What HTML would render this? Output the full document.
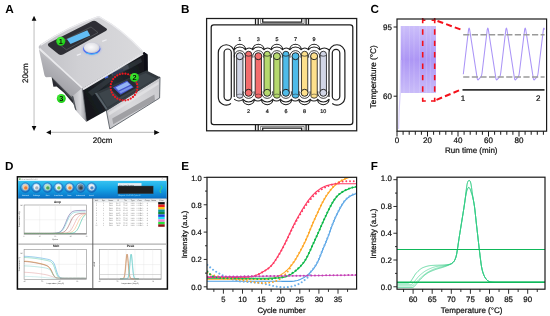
<!DOCTYPE html>
<html lang="en"><head><meta charset="utf-8"><title>Figure</title>
<style>
html,body{margin:0;padding:0;background:#fff;}
body{width:550px;height:316px;overflow:hidden;font-family:"Liberation Sans",Arial,sans-serif;}
svg{display:block;filter:blur(0.3px);}
svg text{font-family:"Liberation Sans",Arial,sans-serif;text-rendering:geometricPrecision;}
svg text.t{stroke:#111;stroke-width:0.22px;}
</style></head><body>
<svg width="550" height="316" viewBox="0 0 550 316">
<rect width="550" height="316" fill="#fff"/>
<g id="panelA">
<text x="5.3" y="13.2" font-size="11.8" font-weight="bold" fill="#000">A</text>
<defs>
<filter id="soft" x="-5%" y="-5%" width="110%" height="110%"><feGaussianBlur stdDeviation="0.45"/></filter>
<filter id="soft2" x="-20%" y="-20%" width="140%" height="140%"><feGaussianBlur stdDeviation="0.9"/></filter>
<linearGradient id="topf" gradientUnits="userSpaceOnUse" x1="40" y1="50" x2="140" y2="50"><stop offset="0" stop-color="#c1c1c6"/><stop offset="0.4" stop-color="#d0d0d4"/><stop offset="1" stop-color="#d9d9dc"/></linearGradient>
<linearGradient id="leftf" gradientUnits="userSpaceOnUse" x1="64" y1="64" x2="50" y2="84"><stop offset="0" stop-color="#c8c8cc"/><stop offset="0.3" stop-color="#b4b4b9"/><stop offset="1" stop-color="#a0a0a6"/></linearGradient>
<linearGradient id="legf" gradientUnits="userSpaceOnUse" x1="72" y1="100" x2="86" y2="100"><stop offset="0" stop-color="#b4b4b9"/><stop offset="0.6" stop-color="#d8d8dc"/><stop offset="1" stop-color="#9a9aa0"/></linearGradient>
<linearGradient id="drawf" gradientUnits="userSpaceOnUse" x1="108" y1="120" x2="158" y2="88"><stop offset="0" stop-color="#c6c6ca"/><stop offset="0.45" stop-color="#dadadd"/><stop offset="1" stop-color="#cbcbcf"/></linearGradient>
<linearGradient id="cav" gradientUnits="userSpaceOnUse" x1="86" y1="100" x2="146" y2="70"><stop offset="0" stop-color="#15181c"/><stop offset="0.5" stop-color="#232a30"/><stop offset="1" stop-color="#14161a"/></linearGradient>
<radialGradient id="knob" cx="0.45" cy="0.45" r="0.62"><stop offset="0" stop-color="#fafafc"/><stop offset="0.65" stop-color="#e4e4e9"/><stop offset="1" stop-color="#babac4"/></radialGradient>
<radialGradient id="grn" cx="0.4" cy="0.35" r="0.7"><stop offset="0" stop-color="#4cf03a"/><stop offset="1" stop-color="#18c814"/></radialGradient>
</defs>
<path d="M34.05,19 V128 M49,132.4 H156" stroke="#c4c4c4" stroke-width="1.1" fill="none"/>
<path d="M34.05,15.8 L36.4,20.7 H31.7 Z M34.05,130.9 L36.4,126.1 H31.7 Z M46.1,132.4 L51,130.1 V134.7 Z M159.6,132.4 L154.2,129.9 V134.9 Z" fill="#0a0a0a"/>
<text class="t" x="102.6" y="143" font-size="8" text-anchor="middle" fill="#111">20cm</text>
<text class="t" transform="translate(27.9,73.2) rotate(-90)" font-size="8" text-anchor="middle" fill="#111">20cm</text>
<g filter="url(#soft)">
<path d="M82,88 L144,52 L147.5,54.6 L147.8,77 L153,79.6 L106.5,110.5 L86.4,121.8 Z" fill="url(#cav)"/>
<path d="M144,52 L147.5,54.6 L147.8,77.5 L144.2,75.2 Z" fill="#101114"/>
<path d="M111,71.6 L128,64.4 L129,68.6 L112,76 Z" fill="#4e565e"/>
<path d="M112.5,72.8 L123,68.8 L123.6,71 L113.2,75.2 Z" fill="#26345e"/>
<path d="M104.6,76.4 L108,75.2 L108.4,77.6 L105,78.8 Z" fill="#4060d8"/>
<path d="M88,92 L125,66 L141,58 L142,62 L120,74 L92,96 Z" fill="#3a4248" opacity="0.55"/>
<path d="M94.6,93 L146.5,70.6 L160,77.3 L106.3,110.6 Z" fill="#30383e"/>
<path d="M99,93.4 L145.5,73 L156,78.2 L107.4,107.2 Z" fill="#3c454c"/>
<path d="M110,88.6 L131,78 L138,87 L119,97.4 Z" fill="#262c32"/>
<path d="M94.8,93 L106.6,110.6 L108,109.6 L97,93 Z" fill="#59626a"/>
<path d="M113,87.6 L127,80.4 L133.6,87.2 L120.6,94.8 Z" fill="#4656cc"/>
<path d="M115.6,87.4 L127.2,81.8 L130.2,84.8 L118.4,90.6 Z" fill="#94b4f4"/>
<path d="M119.2,91.4 L131.2,85.8 L132.6,87.2 L120.8,93.2 Z" fill="#7a94e8"/>
<path d="M106.3,110.5 L160,77.2 L159.6,98 L109.8,129 Z" fill="url(#drawf)"/>
<path d="M108.4,112.6 L158.6,81.4 L158.6,84.4 L108.8,115.8 Z" fill="#e2e2e5" opacity="0.8"/>
<path d="M112.2,118.6 L154.4,94.6 L155,100.6 L113.2,124.2 Z" fill="#a0a0a4"/>
<path d="M106.3,110.5 L160,77.2 L159.6,98 L109.8,129 Z" fill="none" stroke="#5a6066" stroke-width="0.9"/>
<path d="M106.0,110.4 L159.8,77" stroke="#3a4046" stroke-width="1.3" fill="none"/>
<path d="M40.4,44.6 Q67.9,26 95.8,17 Q98.6,15.2 101.5,17.4 Q121.85,28.6 142,50 Q144,51.9 141.8,53 L84,87.4 Q82,88.6 80.4,87.2 L39.6,49.6 Q37.4,46.8 40.4,44.6 Z" fill="url(#topf)"/>
<path d="M40.6,45.2 Q67.9,26.7 95.8,17.6 Q98.6,15.9 101.2,18 Q121.6,29.2 141.6,50.4" fill="none" stroke="#ededf0" stroke-width="1.3"/>
<path d="M142.4,52.6 L84.2,87.2 Q82,88.4 81,87.6 L81.6,90 Q82.6,90.6 84.6,89.6 L143.4,54.6 Z" fill="#e3e3e7"/>
<path d="M38.9,49.6 L81.6,88.3 L86.2,121.6 L75.4,109.8 Q73.6,104 72.6,98 L51.6,77 L46.2,77.3 Q44.8,76.8 44.4,75 Z" fill="url(#leftf)"/>
<path d="M72,96.5 L81.6,88.6 L86.2,121.6 L75.4,109.8 Q73.6,104 72,96.5 Z" fill="url(#legf)"/>
<path d="M39.6,48.6 L82,87.8" stroke="#ebebee" stroke-width="1.3" fill="none"/>
<path d="M82.4,88.2 L86.3,121.4" stroke="#70747a" stroke-width="0.8" fill="none"/>
<path d="M51.6,77 L72.6,98 L75.2,109.8 L73.6,104 L71.3,101.4 L64,92.8 L56.6,86.6 L53.4,86.8 Z" fill="#2a2c31"/>
<path d="M51.6,77 L72.6,98 L73.2,100.6 L63,90 L53,79.6 Z" fill="#5a5d63" opacity="0.75"/>
<path d="M71.5,95.4 L73.4,96.6 L76.6,110.6 L75.2,109.4 Z" fill="#50545a"/>
<path d="M49,43 L92.5,21 Q94.6,20.1 96.4,21.4 L106.5,28.6 Q107.8,29.7 106.2,30.7 L63,54.5 Q60.6,55.6 58.6,54.2 L48.6,46.2 Q47,44.3 49,43 Z" fill="#2e2f34"/>
<path d="M58.2,43.4 L91,27 L98,32.6 L66.4,49.8 Z" fill="none" stroke="#6c6e74" stroke-width="0.5"/>
<path d="M66.9,39 L87.3,30.3 L90.2,35.4 L70.5,44.1 Z" fill="#62bdf4"/>
<ellipse cx="91.8" cy="49.3" rx="9.2" ry="5.6" fill="#7a8af4" opacity="0.45" filter="url(#soft2)"/>
<ellipse cx="91.8" cy="49.1" rx="8.7" ry="5.3" fill="#4a6cf2"/>
<path d="M86,53.2 Q91.8,55.6 97.6,53.2" stroke="#48c4f8" stroke-width="0.9" fill="none"/>
<ellipse cx="91.8" cy="47.7" rx="8.0" ry="5.2" fill="url(#knob)"/>
<path d="M76.8,55.4 L81,53.8 M102.2,41.4 L106.6,39.8" stroke="#efeff3" stroke-width="1.2"/>
</g>
<g fill="#ee1620"><circle cx="137.4" cy="87" r="1.1"/><circle cx="137.11" cy="89.79" r="1.1"/><circle cx="136.24" cy="92.45" r="1.1"/><circle cx="134.84" cy="94.88" r="1.1"/><circle cx="132.97" cy="96.96" r="1.1"/><circle cx="130.7" cy="98.6" r="1.1"/><circle cx="128.14" cy="99.74" r="1.1"/><circle cx="125.4" cy="100.33" r="1.1"/><circle cx="122.6" cy="100.33" r="1.1"/><circle cx="119.86" cy="99.74" r="1.1"/><circle cx="117.3" cy="98.6" r="1.1"/><circle cx="115.03" cy="96.96" r="1.1"/><circle cx="113.16" cy="94.88" r="1.1"/><circle cx="111.76" cy="92.45" r="1.1"/><circle cx="110.89" cy="89.79" r="1.1"/><circle cx="110.6" cy="87" r="1.1"/><circle cx="110.89" cy="84.21" r="1.1"/><circle cx="111.76" cy="81.55" r="1.1"/><circle cx="113.16" cy="79.12" r="1.1"/><circle cx="115.03" cy="77.04" r="1.1"/><circle cx="117.3" cy="75.4" r="1.1"/><circle cx="119.86" cy="74.26" r="1.1"/><circle cx="122.6" cy="73.67" r="1.1"/><circle cx="125.4" cy="73.67" r="1.1"/><circle cx="128.14" cy="74.26" r="1.1"/><circle cx="130.7" cy="75.4" r="1.1"/><circle cx="132.97" cy="77.04" r="1.1"/><circle cx="134.84" cy="79.12" r="1.1"/><circle cx="136.24" cy="81.55" r="1.1"/><circle cx="137.11" cy="84.21" r="1.1"/></g>
<circle cx="60.8" cy="41.2" r="4.5" fill="url(#grn)"/>
<text x="60.8" y="43.800000000000004" font-size="7.3" font-weight="bold" text-anchor="middle" fill="#061806">1</text>
<circle cx="134.5" cy="77.4" r="4.5" fill="url(#grn)"/>
<text x="134.5" y="80.0" font-size="7.3" font-weight="bold" text-anchor="middle" fill="#061806">2</text>
<circle cx="61.3" cy="98.5" r="4.5" fill="url(#grn)"/>
<text x="61.3" y="101.1" font-size="7.3" font-weight="bold" text-anchor="middle" fill="#061806">3</text>
</g>
<g id="panelB">
<text x="180.9" y="13.2" font-size="11.7" font-weight="bold" fill="#000">B</text>
<g fill="none" stroke="#1c1c1c" stroke-width="1.25">
<rect x="206.6" y="18.5" width="150.1" height="112.3"/>
<rect x="211.2" y="24.8" width="141.6" height="99.7" rx="2.6"/>
<path d="M255.5,18.5 V24.8 M258.2,18.5 V24.8 M306.1,18.5 V24.8 M308.5,18.5 V24.8"/>
<path d="M262.7,18.5 V22.2 H301.7 V18.5"/>
<path d="M260.6,18.5 V23.5 H304.1 V18.5" stroke="#555" stroke-width="0.7"/>
<path d="M255.5,130.8 V124.5 M258.2,130.8 V124.5 M306.1,130.8 V124.5 M308.5,130.8 V124.5"/>
<path d="M262.7,130.8 V128 H301.7 V130.8"/>
<path d="M260.6,130.8 V126.4 H304.1 V130.8" stroke="#555" stroke-width="0.7"/>
</g>
<g fill="none" stroke="#1c1c1c" stroke-width="1.2">
<path d="M234.2,97 V52.7 A7.95,7.95 0 0 0 218.3,52.7 V97 A7.95,7.95 0 0 0 231,103.5"/>
<rect x="224.1" y="49" width="7.2" height="51.3" rx="3.6"/>
<path d="M329,97 V52.7 A7.95,7.95 0 0 1 344.9,52.7 V97 A7.95,7.95 0 0 1 332.2,103.5"/>
<rect x="332.3" y="49.3" width="7.5" height="50.7" rx="3.75"/>
</g>
<path d="M233.9,49.6 A5.93,5.93 0 0 1 245.7,49.6 M234.2,49.6 A7.3,7.3 0 0 1 245.4,49.6 M245.3,49.7 Q249.08,46.3 252.85,49.7 M252.45,49.6 A5.93,5.93 0 0 1 264.25,49.6 M252.75,49.6 A7.3,7.3 0 0 1 263.95,49.6 M263.85,49.7 Q267.62,46.3 271.4,49.7 M271,49.6 A5.93,5.93 0 0 1 282.8,49.6 M271.3,49.6 A7.3,7.3 0 0 1 282.5,49.6 M282.4,49.7 Q286.2,46.3 290,49.7 M289.6,49.6 A5.93,5.93 0 0 1 301.4,49.6 M289.9,49.6 A7.3,7.3 0 0 1 301.1,49.6 M301,49.7 Q304.8,46.3 308.6,49.7 M308.2,49.6 A5.93,5.93 0 0 1 320,49.6 M308.5,49.6 A7.3,7.3 0 0 1 319.7,49.6 M319.6,49.7 Q324.3,46.3 329,49.7 M242.7,99.4 A5.93,5.93 0 0 0 254.5,99.4 M243,99.4 A7.3,7.3 0 0 0 254.2,99.4 M243.1,99.3 Q238.8,102.7 234.5,99.3 M261.3,99.4 A5.93,5.93 0 0 0 273.1,99.4 M261.6,99.4 A7.3,7.3 0 0 0 272.8,99.4 M261.7,99.3 Q257.9,102.7 254.1,99.3 M280,99.4 A5.93,5.93 0 0 0 291.8,99.4 M280.3,99.4 A7.3,7.3 0 0 0 291.5,99.4 M280.4,99.3 Q276.55,102.7 272.7,99.3 M298.7,99.4 A5.93,5.93 0 0 0 310.5,99.4 M299,99.4 A7.3,7.3 0 0 0 310.2,99.4 M299.1,99.3 Q295.25,102.7 291.4,99.3 M317.4,99.4 A5.93,5.93 0 0 0 329.2,99.4 M317.7,99.4 A7.3,7.3 0 0 0 328.9,99.4 M317.8,99.3 Q313.95,102.7 310.1,99.3 " fill="none" stroke="#1c1c1c" stroke-width="1.05" stroke-linecap="round"/>
<path d="M234.4,57.7 A5.6,5.6 0 1 1 245.2,57.7" fill="none" stroke="#1c1c1c" stroke-width="0.85"/>
<path d="M236.65,56.2 V95.8 A3.15,2.3 0 0 0 242.95,95.8 V56.2 Z" fill="#d2d6e6" stroke="#1c1c1c" stroke-width="0.85"/>
<ellipse cx="239.8" cy="96" rx="3.15" ry="1.9" fill="#d2d6e6" stroke="#1c1c1c" stroke-width="0.5" opacity="0.9"/>
<circle cx="239.8" cy="56.2" r="3.5" fill="#d2d6e6" stroke="#1c1c1c" stroke-width="0.95"/>
<path d="M243.2,91.3 A5.6,5.6 0 1 0 254,91.3" fill="none" stroke="#1c1c1c" stroke-width="0.85"/>
<path d="M245.45,92.8 V54.4 A3.15,3.15 0 0 1 251.75,54.4 V92.8 Z" fill="#f26d6d" stroke="#1c1c1c" stroke-width="0.85"/>
<path d="M245.45,54.6 A3.15,1.6 0 0 0 251.75,54.6" fill="none" stroke="#1c1c1c" stroke-width="0.7"/>
<circle cx="248.6" cy="92.8" r="3.5" fill="#f26d6d" stroke="#1c1c1c" stroke-width="0.95"/>
<path d="M252.95,57.7 A5.6,5.6 0 1 1 263.75,57.7" fill="none" stroke="#1c1c1c" stroke-width="0.85"/>
<path d="M255.2,56.2 V95.8 A3.15,2.3 0 0 0 261.5,95.8 V56.2 Z" fill="#f26d6d" stroke="#1c1c1c" stroke-width="0.85"/>
<ellipse cx="258.35" cy="96" rx="3.15" ry="1.9" fill="#f26d6d" stroke="#1c1c1c" stroke-width="0.5" opacity="0.9"/>
<circle cx="258.35" cy="56.2" r="3.5" fill="#f26d6d" stroke="#1c1c1c" stroke-width="0.95"/>
<path d="M261.8,91.3 A5.6,5.6 0 1 0 272.6,91.3" fill="none" stroke="#1c1c1c" stroke-width="0.85"/>
<path d="M264.05,92.8 V54.4 A3.15,3.15 0 0 1 270.35,54.4 V92.8 Z" fill="#b6d96e" stroke="#1c1c1c" stroke-width="0.85"/>
<path d="M264.05,54.6 A3.15,1.6 0 0 0 270.35,54.6" fill="none" stroke="#1c1c1c" stroke-width="0.7"/>
<circle cx="267.2" cy="92.8" r="3.5" fill="#b6d96e" stroke="#1c1c1c" stroke-width="0.95"/>
<path d="M271.5,57.7 A5.6,5.6 0 1 1 282.3,57.7" fill="none" stroke="#1c1c1c" stroke-width="0.85"/>
<path d="M273.75,56.2 V95.8 A3.15,2.3 0 0 0 280.05,95.8 V56.2 Z" fill="#b6d96e" stroke="#1c1c1c" stroke-width="0.85"/>
<ellipse cx="276.9" cy="96" rx="3.15" ry="1.9" fill="#b6d96e" stroke="#1c1c1c" stroke-width="0.5" opacity="0.9"/>
<circle cx="276.9" cy="56.2" r="3.5" fill="#b6d96e" stroke="#1c1c1c" stroke-width="0.95"/>
<path d="M280.5,91.3 A5.6,5.6 0 1 0 291.3,91.3" fill="none" stroke="#1c1c1c" stroke-width="0.85"/>
<path d="M282.75,92.8 V54.4 A3.15,3.15 0 0 1 289.05,54.4 V92.8 Z" fill="#4ebbe9" stroke="#1c1c1c" stroke-width="0.85"/>
<path d="M282.75,54.6 A3.15,1.6 0 0 0 289.05,54.6" fill="none" stroke="#1c1c1c" stroke-width="0.7"/>
<circle cx="285.9" cy="92.8" r="3.5" fill="#4ebbe9" stroke="#1c1c1c" stroke-width="0.95"/>
<path d="M290.1,57.7 A5.6,5.6 0 1 1 300.9,57.7" fill="none" stroke="#1c1c1c" stroke-width="0.85"/>
<path d="M292.35,56.2 V95.8 A3.15,2.3 0 0 0 298.65,95.8 V56.2 Z" fill="#4ebbe9" stroke="#1c1c1c" stroke-width="0.85"/>
<ellipse cx="295.5" cy="96" rx="3.15" ry="1.9" fill="#4ebbe9" stroke="#1c1c1c" stroke-width="0.5" opacity="0.9"/>
<circle cx="295.5" cy="56.2" r="3.5" fill="#4ebbe9" stroke="#1c1c1c" stroke-width="0.95"/>
<path d="M299.2,91.3 A5.6,5.6 0 1 0 310,91.3" fill="none" stroke="#1c1c1c" stroke-width="0.85"/>
<path d="M301.45,92.8 V54.4 A3.15,3.15 0 0 1 307.75,54.4 V92.8 Z" fill="#fde08c" stroke="#1c1c1c" stroke-width="0.85"/>
<path d="M301.45,54.6 A3.15,1.6 0 0 0 307.75,54.6" fill="none" stroke="#1c1c1c" stroke-width="0.7"/>
<circle cx="304.6" cy="92.8" r="3.5" fill="#fde08c" stroke="#1c1c1c" stroke-width="0.95"/>
<path d="M308.7,57.7 A5.6,5.6 0 1 1 319.5,57.7" fill="none" stroke="#1c1c1c" stroke-width="0.85"/>
<path d="M310.95,56.2 V95.8 A3.15,2.3 0 0 0 317.25,95.8 V56.2 Z" fill="#fde08c" stroke="#1c1c1c" stroke-width="0.85"/>
<ellipse cx="314.1" cy="96" rx="3.15" ry="1.9" fill="#fde08c" stroke="#1c1c1c" stroke-width="0.5" opacity="0.9"/>
<circle cx="314.1" cy="56.2" r="3.5" fill="#fde08c" stroke="#1c1c1c" stroke-width="0.95"/>
<path d="M317.9,91.3 A5.6,5.6 0 1 0 328.7,91.3" fill="none" stroke="#1c1c1c" stroke-width="0.85"/>
<path d="M320.15,92.8 V54.4 A3.15,3.15 0 0 1 326.45,54.4 V92.8 Z" fill="#d2d6e6" stroke="#1c1c1c" stroke-width="0.85"/>
<path d="M320.15,54.6 A3.15,1.6 0 0 0 326.45,54.6" fill="none" stroke="#1c1c1c" stroke-width="0.7"/>
<circle cx="323.3" cy="92.8" r="3.5" fill="#d2d6e6" stroke="#1c1c1c" stroke-width="0.95"/>
<text x="239.8" y="41" class="t" font-size="5.4" text-anchor="middle" fill="#222">1</text>
<text x="258.35" y="41" class="t" font-size="5.4" text-anchor="middle" fill="#222">3</text>
<text x="276.9" y="41" class="t" font-size="5.4" text-anchor="middle" fill="#222">5</text>
<text x="295.5" y="41" class="t" font-size="5.4" text-anchor="middle" fill="#222">7</text>
<text x="314.1" y="41" class="t" font-size="5.4" text-anchor="middle" fill="#222">9</text>
<text x="248.6" y="113" class="t" font-size="5.4" text-anchor="middle" fill="#222">2</text>
<text x="267.2" y="113" class="t" font-size="5.4" text-anchor="middle" fill="#222">4</text>
<text x="285.9" y="113" class="t" font-size="5.4" text-anchor="middle" fill="#222">6</text>
<text x="304.6" y="113" class="t" font-size="5.4" text-anchor="middle" fill="#222">8</text>
<text x="323.3" y="113" class="t" font-size="5.4" text-anchor="middle" fill="#222">10</text>
</g>
<g id="panelC">
<defs><linearGradient id="purp" x1="0" y1="0" x2="0" y2="1"><stop offset="0" stop-color="#cbbefa"/><stop offset="0.5" stop-color="#ad96f5"/><stop offset="1" stop-color="#c9bcf9"/></linearGradient></defs>
<text x="370.5" y="13.2" font-size="11.7" font-weight="bold" fill="#000">C</text>
<rect x="400.7" y="26" width="35.3" height="67" fill="url(#purp)"/>
<path d="M404,26 V93 M409.5,26 V93 M414,26 V93 M419.6,26 V93 M426.5,26 V93 M430.4,26 V93" stroke="#fff" stroke-width="1.2" opacity="0.13" fill="none"/>
<path d="M398.6,129 L399.2,110 L400.2,93 L400.7,60" fill="none" stroke="#d9d0fb" stroke-width="1.2"/>
<path d="M463.3,74.3 L468.55,29.6 Q469.1,26.4 469.65,29.6 L477.2,78.4 Q477.7,80.9 478.6,79.3 L481.1,76.6 Q481.7,75.8 482.1,72.5 L487.25,29.6 Q487.8,26.4 488.35,29.6 L495.9,78.4 Q496.4,80.9 497.3,79.3 L499.8,76.6 Q500.4,75.8 500.8,72.5 L505.85,29.6 Q506.4,26.4 506.95,29.6 L514.5,78.4 Q515,80.9 515.9,79.3 L518.4,76.6 Q519,75.8 519.4,72.5 L524.65,29.6 Q525.2,26.4 525.75,29.6 L533.3,78.4 Q533.8,80.9 534.7,79.3 L537.2,76.6 Q537.8,75.8 538.2,72.5 L543.35,29.6 Q543.9,26.4 544.45,29.6" fill="none" stroke="#ab95f7" stroke-width="1.05" stroke-linejoin="round"/>
<path d="M463.2,34.7 H544.6" stroke="#9a9a9a" stroke-width="1.5" stroke-dasharray="6.2 2.4" fill="none"/>
<path d="M463.2,77 H544.6" stroke="#9a9a9a" stroke-width="1.5" stroke-dasharray="6.2 2.4" fill="none"/>
<path d="M462.5,89.9 H544.5" stroke="#333" stroke-width="1.8" fill="none"/>
<text x="463" y="100.8" class="t" font-size="8" text-anchor="middle" fill="#111">1</text>
<text x="538.3" y="100.8" class="t" font-size="8" text-anchor="middle" fill="#111">2</text>
<g stroke="#f4101a" fill="none">
<path d="M422.7,17.9 V101.5" stroke-width="1.6" stroke-dasharray="5.4 6"/>
<path d="M434.7,17.9 V101.5" stroke-width="1.6" stroke-dasharray="5.4 6"/>
<path d="M422,101 H425.8 M431,101 H435.4" stroke-width="1.6"/>
<path d="M422,20.2 H425.4 M431.6,20.2 H435.4" stroke-width="1.4"/>
<path d="M437.5,21 L461,29.6" stroke-width="2" stroke-dasharray="6 3.2"/>
<path d="M436.5,99.8 L460.3,89.9" stroke-width="2" stroke-dasharray="6 3.2"/>
</g>
<rect x="397" y="19" width="149.6" height="112.2" fill="none" stroke="#1a1a1a" stroke-width="1.2"/>
<path d="M397,131.2 V136.5 M403.1,131.2 V134.8 M409.2,131.2 V134.8 M415.3,131.2 V134.8 M421.4,131.2 V134.8 M427.5,131.2 V136.5 M433.6,131.2 V134.8 M439.7,131.2 V134.8 M445.8,131.2 V134.8 M451.9,131.2 V134.8 M458,131.2 V136.5 M464.1,131.2 V134.8 M470.2,131.2 V134.8 M476.3,131.2 V134.8 M482.4,131.2 V134.8 M488.5,131.2 V136.5 M494.6,131.2 V134.8 M500.7,131.2 V134.8 M506.8,131.2 V134.8 M512.9,131.2 V134.8 M519,131.2 V136.5 M525.1,131.2 V134.8 M531.2,131.2 V134.8 M537.3,131.2 V134.8 M543.4,131.2 V134.8 M393.6,27 H397 M393.6,96.2 H397" stroke="#1a1a1a" stroke-width="1" fill="none"/>
<text x="397" y="143.4" class="t" font-size="8" text-anchor="middle" fill="#111">0</text>
<text x="427.5" y="143.4" class="t" font-size="8" text-anchor="middle" fill="#111">20</text>
<text x="458" y="143.4" class="t" font-size="8" text-anchor="middle" fill="#111">40</text>
<text x="488.5" y="143.4" class="t" font-size="8" text-anchor="middle" fill="#111">60</text>
<text x="519" y="143.4" class="t" font-size="8" text-anchor="middle" fill="#111">80</text>
<text x="391.9" y="29.9" class="t" font-size="8" text-anchor="end" fill="#111">95</text>
<text x="391.9" y="99.1" class="t" font-size="8" text-anchor="end" fill="#111">60</text>
<text x="471.3" y="152.6" class="t" font-size="8" text-anchor="middle" fill="#111">Run time (min)</text>
<text transform="translate(376.1,76.8) rotate(-90)" class="t" font-size="8.2" text-anchor="middle" fill="#111">Temperature (°C)</text>
</g>
<g id="panelD">
<text x="5.0" y="170.4" font-size="11.7" font-weight="bold" fill="#000">D</text>
<defs><linearGradient id="tb" x1="0" y1="0" x2="0" y2="1"><stop offset="0" stop-color="#36c2f0"/><stop offset="0.45" stop-color="#15a6e6"/><stop offset="1" stop-color="#0a70c6"/></linearGradient>
<radialGradient id="ic" cx="0.42" cy="0.3" r="0.75"><stop offset="0" stop-color="#d8f0fc"/><stop offset="0.5" stop-color="#5cb4ea"/><stop offset="1" stop-color="#1560b4"/></radialGradient></defs>
<rect x="17.4" y="176.8" width="150" height="112.2" fill="#fff" stroke="#0c0c0c" stroke-width="1.5"/>
<rect x="18.1" y="180.8" width="148.6" height="17.4" fill="url(#tb)"/>
<rect x="19.2" y="178.3" width="1.3" height="1.6" fill="#4caf50"/>
<text x="21.5" y="180" font-size="1.9" fill="#888">RealTimePCR v1.0</text>
<text x="160" y="180" font-size="2" fill="#777">– □ ×</text>
<circle cx="25.4" cy="187.6" r="4.7" fill="url(#ic)" stroke="#0c58a8" stroke-width="0.6"/>
<ellipse cx="25.5" cy="187.3" rx="2.9" ry="3.1" fill="#f6c8a0" opacity="0.9"/>
<circle cx="25.8" cy="187.9" r="1.7" fill="#e8732c" opacity="0.9"/>
<text x="25.4" y="195.9" font-size="1.9" text-anchor="middle" fill="#e8f6ff">Protocol</text>
<circle cx="36.43" cy="187.6" r="4.7" fill="url(#ic)" stroke="#0c58a8" stroke-width="0.6"/>
<ellipse cx="36.53" cy="187.3" rx="2.9" ry="3.1" fill="#f2f4f6" opacity="0.9"/>
<circle cx="36.83" cy="187.9" r="1.7" fill="#9aa7b5" opacity="0.9"/>
<text x="36.43" y="195.9" font-size="1.9" text-anchor="middle" fill="#e8f6ff">Settings</text>
<circle cx="47.46" cy="187.6" r="4.7" fill="url(#ic)" stroke="#0c58a8" stroke-width="0.6"/>
<ellipse cx="47.56" cy="187.3" rx="2.9" ry="3.1" fill="#bfe6c0" opacity="0.9"/>
<circle cx="47.86" cy="187.9" r="1.7" fill="#3f9c4a" opacity="0.9"/>
<text x="47.46" y="195.9" font-size="1.9" text-anchor="middle" fill="#e8f6ff">Run</text>
<circle cx="58.49" cy="187.6" r="4.7" fill="url(#ic)" stroke="#0c58a8" stroke-width="0.6"/>
<ellipse cx="58.59" cy="187.3" rx="2.9" ry="3.1" fill="#f4f8f0" opacity="0.9"/>
<circle cx="58.89" cy="187.9" r="1.7" fill="#6fb34a" opacity="0.9"/>
<text x="58.49" y="195.9" font-size="1.9" text-anchor="middle" fill="#e8f6ff">Load Data</text>
<circle cx="69.52" cy="187.6" r="4.7" fill="url(#ic)" stroke="#0c58a8" stroke-width="0.6"/>
<ellipse cx="69.62" cy="187.3" rx="2.9" ry="3.1" fill="#f8e0c0" opacity="0.9"/>
<circle cx="69.92" cy="187.9" r="1.7" fill="#e27a2c" opacity="0.9"/>
<text x="69.52" y="195.9" font-size="1.9" text-anchor="middle" fill="#e8f6ff">Save</text>
<circle cx="80.55" cy="187.6" r="4.7" fill="url(#ic)" stroke="#0c58a8" stroke-width="0.6"/>
<ellipse cx="80.65" cy="187.3" rx="2.9" ry="3.1" fill="#6a7480" opacity="0.9"/>
<circle cx="80.95" cy="187.9" r="1.7" fill="#2d3a48" opacity="0.9"/>
<text x="80.55" y="195.9" font-size="1.9" text-anchor="middle" fill="#e8f6ff">Instrument</text>
<circle cx="91.58" cy="187.6" r="4.7" fill="url(#ic)" stroke="#0c58a8" stroke-width="0.6"/>
<ellipse cx="91.68" cy="187.3" rx="2.9" ry="3.1" fill="#f6f0f0" opacity="0.9"/>
<circle cx="91.98" cy="187.9" r="1.7" fill="#3a7fc4" opacity="0.9"/>
<text x="91.58" y="195.9" font-size="1.9" text-anchor="middle" fill="#e8f6ff">Excel</text>
<rect x="117.9" y="183.1" width="23.6" height="3" fill="#e9eef2"/>
<text x="119" y="185.5" font-size="1.9" fill="#333">Run Time Monitor</text>
<rect x="117.9" y="186" width="35.3" height="7.8" fill="#1f1f1f" stroke="#3a5a70" stroke-width="0.4"/>
<text x="118.5" y="196.3" font-size="1.8" fill="#9fe3ff">Elapsed: 00:47:12   Cycle 40</text>
<path d="M161,185.6 q2.4,1.6 0,3.6 q-2.4,1.8 0,3.8" fill="none" stroke="#3ed17a" stroke-width="1"/>
<path d="M18.1,244.1 H166.7" stroke="#b0b0b0" stroke-width="1.4" fill="none"/>
<path d="M92.8,198.2 V288.3" stroke="#555" stroke-width="0.9" fill="none"/>
<path d="M18.1,198.4 H166.7" stroke="#0a5596" stroke-width="0.5"/>
<text x="57.5" y="202.8" font-size="3.2" font-weight="bold" text-anchor="middle" fill="#111">Amp</text>
<rect x="24.1" y="205" width="62.3" height="29.5" fill="#fff" stroke="#8c8c8c" stroke-width="0.6"/>
<path d="M39.68,205 V234.5 M55.25,205 V234.5 M70.83,205 V234.5 M24.1,219.75 H86.4 " stroke="#e2e2e2" stroke-width="0.4" fill="none"/>
<path d="M24.1,233.5 H86.4" stroke="#8d8d8d" stroke-width="0.9"/>
<path d="M24.1,233.4 L24.9,233.4 L25.7,233.4 L26.5,233.4 L27.3,233.4 L28.1,233.4 L28.9,233.4 L29.7,233.4 L30.5,233.4 L31.3,233.4 L32.1,233.4 L32.9,233.4 L33.7,233.4 L34.5,233.4 L35.3,233.4 L36.1,233.4 L36.9,233.4 L37.7,233.4 L38.5,233.4 L39.3,233.4 L40.1,233.4 L40.9,233.4 L41.7,233.4 L42.5,233.4 L43.3,233.4 L44.1,233.4 L44.9,233.4 L45.7,233.4 L46.5,233.4 L47.3,233.39 L48.1,233.39 L48.9,233.39 L49.7,233.38 L50.5,233.37 L51.3,233.36 L52.1,233.35 L52.9,233.32 L53.7,233.29 L54.5,233.25 L55.3,233.18 L56.1,233.09 L56.9,232.97 L57.7,232.79 L58.5,232.55 L59.3,232.22 L60.1,231.76 L60.9,231.14 L61.7,230.33 L62.5,229.28 L63.3,227.97 L64.1,226.4 L64.9,224.6 L65.7,222.65 L66.5,220.65 L67.3,218.73 L68.1,216.99 L68.9,215.48 L69.7,214.24 L70.5,213.25 L71.3,212.49 L72.1,211.91 L72.9,211.49 L73.7,211.18 L74.5,210.96 L75.3,210.8 L76.1,210.68 L76.9,210.6 L77.7,210.54 L78.5,210.5 L79.3,210.47 L80.1,210.45 L80.9,210.44 L81.7,210.42 L82.5,210.42 L83.3,210.41 L84.1,210.41 L84.9,210.41 L85.7,210.4" fill="none" stroke="#4a3f8f" stroke-width="0.5"/>
<path d="M24.1,233.4 L24.9,233.4 L25.7,233.4 L26.5,233.4 L27.3,233.4 L28.1,233.4 L28.9,233.4 L29.7,233.4 L30.5,233.4 L31.3,233.4 L32.1,233.4 L32.9,233.4 L33.7,233.4 L34.5,233.4 L35.3,233.4 L36.1,233.4 L36.9,233.4 L37.7,233.4 L38.5,233.4 L39.3,233.4 L40.1,233.4 L40.9,233.4 L41.7,233.4 L42.5,233.4 L43.3,233.4 L44.1,233.4 L44.9,233.4 L45.7,233.4 L46.5,233.4 L47.3,233.4 L48.1,233.39 L48.9,233.39 L49.7,233.39 L50.5,233.38 L51.3,233.37 L52.1,233.36 L52.9,233.34 L53.7,233.32 L54.5,233.29 L55.3,233.24 L56.1,233.18 L56.9,233.09 L57.7,232.96 L58.5,232.78 L59.3,232.53 L60.1,232.19 L60.9,231.73 L61.7,231.11 L62.5,230.29 L63.3,229.25 L64.1,227.95 L64.9,226.42 L65.7,224.69 L66.5,222.83 L67.3,220.97 L68.1,219.2 L68.9,217.61 L69.7,216.25 L70.5,215.15 L71.3,214.28 L72.1,213.61 L72.9,213.11 L73.7,212.74 L74.5,212.47 L75.3,212.28 L76.1,212.14 L76.9,212.04 L77.7,211.97 L78.5,211.92 L79.3,211.89 L80.1,211.86 L80.9,211.84 L81.7,211.83 L82.5,211.82 L83.3,211.82 L84.1,211.81 L84.9,211.81 L85.7,211.81" fill="none" stroke="#58c2c9" stroke-width="0.5"/>
<path d="M24.1,233.4 L24.9,233.4 L25.7,233.4 L26.5,233.4 L27.3,233.4 L28.1,233.4 L28.9,233.4 L29.7,233.4 L30.5,233.4 L31.3,233.4 L32.1,233.4 L32.9,233.4 L33.7,233.4 L34.5,233.4 L35.3,233.4 L36.1,233.4 L36.9,233.4 L37.7,233.4 L38.5,233.4 L39.3,233.4 L40.1,233.4 L40.9,233.4 L41.7,233.4 L42.5,233.4 L43.3,233.4 L44.1,233.4 L44.9,233.4 L45.7,233.4 L46.5,233.4 L47.3,233.4 L48.1,233.4 L48.9,233.4 L49.7,233.4 L50.5,233.4 L51.3,233.39 L52.1,233.39 L52.9,233.39 L53.7,233.38 L54.5,233.37 L55.3,233.36 L56.1,233.35 L56.9,233.33 L57.7,233.3 L58.5,233.25 L59.3,233.19 L60.1,233.11 L60.9,232.99 L61.7,232.82 L62.5,232.59 L63.3,232.28 L64.1,231.84 L64.9,231.27 L65.7,230.51 L66.5,229.53 L67.3,228.33 L68.1,226.9 L68.9,225.29 L69.7,223.57 L70.5,221.83 L71.3,220.18 L72.1,218.71 L72.9,217.45 L73.7,216.42 L74.5,215.61 L75.3,214.99 L76.1,214.52 L76.9,214.18 L77.7,213.93 L78.5,213.75 L79.3,213.62 L80.1,213.53 L80.9,213.46 L81.7,213.41 L82.5,213.38 L83.3,213.36 L84.1,213.34 L84.9,213.33 L85.7,213.32" fill="none" stroke="#8a3a3a" stroke-width="0.5"/>
<path d="M24.1,233.4 L24.9,233.4 L25.7,233.4 L26.5,233.4 L27.3,233.4 L28.1,233.4 L28.9,233.4 L29.7,233.4 L30.5,233.4 L31.3,233.4 L32.1,233.4 L32.9,233.4 L33.7,233.4 L34.5,233.4 L35.3,233.4 L36.1,233.4 L36.9,233.4 L37.7,233.4 L38.5,233.4 L39.3,233.4 L40.1,233.4 L40.9,233.4 L41.7,233.4 L42.5,233.4 L43.3,233.4 L44.1,233.4 L44.9,233.4 L45.7,233.4 L46.5,233.4 L47.3,233.4 L48.1,233.4 L48.9,233.4 L49.7,233.4 L50.5,233.4 L51.3,233.4 L52.1,233.4 L52.9,233.4 L53.7,233.4 L54.5,233.4 L55.3,233.4 L56.1,233.39 L56.9,233.39 L57.7,233.39 L58.5,233.38 L59.3,233.37 L60.1,233.36 L60.9,233.35 L61.7,233.32 L62.5,233.29 L63.3,233.25 L64.1,233.19 L64.9,233.1 L65.7,232.98 L66.5,232.81 L67.3,232.57 L68.1,232.25 L68.9,231.8 L69.7,231.21 L70.5,230.44 L71.3,229.46 L72.1,228.24 L72.9,226.81 L73.7,225.2 L74.5,223.5 L75.3,221.8 L76.1,220.19 L76.9,218.76 L77.7,217.54 L78.5,216.56 L79.3,215.79 L80.1,215.2 L80.9,214.75 L81.7,214.43 L82.5,214.19 L83.3,214.02 L84.1,213.9 L84.9,213.81 L85.7,213.75" fill="none" stroke="#e58a8a" stroke-width="0.5"/>
<path d="M24.1,233.4 L24.9,233.4 L25.7,233.4 L26.5,233.4 L27.3,233.4 L28.1,233.4 L28.9,233.4 L29.7,233.4 L30.5,233.4 L31.3,233.4 L32.1,233.4 L32.9,233.4 L33.7,233.4 L34.5,233.4 L35.3,233.4 L36.1,233.4 L36.9,233.4 L37.7,233.4 L38.5,233.4 L39.3,233.4 L40.1,233.4 L40.9,233.4 L41.7,233.4 L42.5,233.4 L43.3,233.4 L44.1,233.4 L44.9,233.4 L45.7,233.4 L46.5,233.4 L47.3,233.4 L48.1,233.4 L48.9,233.4 L49.7,233.4 L50.5,233.4 L51.3,233.4 L52.1,233.4 L52.9,233.4 L53.7,233.4 L54.5,233.4 L55.3,233.4 L56.1,233.4 L56.9,233.4 L57.7,233.4 L58.5,233.4 L59.3,233.39 L60.1,233.39 L60.9,233.39 L61.7,233.38 L62.5,233.38 L63.3,233.37 L64.1,233.35 L64.9,233.33 L65.7,233.3 L66.5,233.26 L67.3,233.2 L68.1,233.12 L68.9,233 L69.7,232.83 L70.5,232.59 L71.3,232.25 L72.1,231.79 L72.9,231.17 L73.7,230.34 L74.5,229.28 L75.3,227.98 L76.1,226.45 L76.9,224.75 L77.7,222.99 L78.5,221.26 L79.3,219.68 L80.1,218.32 L80.9,217.2 L81.7,216.32 L82.5,215.65 L83.3,215.15 L84.1,214.79 L84.9,214.52 L85.7,214.34" fill="none" stroke="#f0b46a" stroke-width="0.5"/>
<path d="M24.1,233.4 L24.9,233.4 L25.7,233.4 L26.5,233.4 L27.3,233.4 L28.1,233.4 L28.9,233.4 L29.7,233.4 L30.5,233.4 L31.3,233.4 L32.1,233.4 L32.9,233.4 L33.7,233.4 L34.5,233.4 L35.3,233.4 L36.1,233.4 L36.9,233.4 L37.7,233.4 L38.5,233.4 L39.3,233.4 L40.1,233.4 L40.9,233.4 L41.7,233.4 L42.5,233.4 L43.3,233.4 L44.1,233.4 L44.9,233.4 L45.7,233.4 L46.5,233.4 L47.3,233.4 L48.1,233.4 L48.9,233.4 L49.7,233.4 L50.5,233.4 L51.3,233.4 L52.1,233.4 L52.9,233.4 L53.7,233.4 L54.5,233.4 L55.3,233.4 L56.1,233.4 L56.9,233.4 L57.7,233.4 L58.5,233.4 L59.3,233.4 L60.1,233.4 L60.9,233.4 L61.7,233.4 L62.5,233.4 L63.3,233.4 L64.1,233.39 L64.9,233.39 L65.7,233.39 L66.5,233.38 L67.3,233.37 L68.1,233.36 L68.9,233.33 L69.7,233.3 L70.5,233.25 L71.3,233.18 L72.1,233.07 L72.9,232.92 L73.7,232.69 L74.5,232.36 L75.3,231.88 L76.1,231.22 L76.9,230.31 L77.7,229.12 L78.5,227.62 L79.3,225.85 L80.1,223.9 L80.9,221.91 L81.7,220.04 L82.5,218.39 L83.3,217.05 L84.1,216 L84.9,215.22 L85.7,214.66" fill="none" stroke="#18b08a" stroke-width="0.5"/>
<text x="55.1" y="239.8" font-size="1.9" text-anchor="middle" fill="#222">Cycles</text>
<text transform="translate(20.4,219.5) rotate(-90)" font-size="1.9" text-anchor="middle" fill="#222">Fluorescence (dR)</text>
<text x="24.1" y="236.8" font-size="1.7" text-anchor="middle" fill="#444">0</text>
<text x="39.67" y="236.8" font-size="1.7" text-anchor="middle" fill="#444">10</text>
<text x="55.25" y="236.8" font-size="1.7" text-anchor="middle" fill="#444">20</text>
<text x="70.82" y="236.8" font-size="1.7" text-anchor="middle" fill="#444">30</text>
<text x="86.4" y="236.8" font-size="1.7" text-anchor="middle" fill="#444">40</text>
<text x="22.8" y="206" font-size="1.7" text-anchor="end" fill="#444">100</text>
<text x="56.1" y="247.3" font-size="3.2" font-weight="bold" text-anchor="middle" fill="#111">Melt</text>
<rect x="24.1" y="249.5" width="62.3" height="29.8" fill="#fff" stroke="#8c8c8c" stroke-width="0.6"/>
<path d="M41.6,249.5 V279.3 M59.1,249.5 V279.3 M76.6,249.5 V279.3 M24.1,264.4 H86.4 " stroke="#e2e2e2" stroke-width="0.4" fill="none"/>
<path d="M24.1,256.3 L24.9,256.31 L25.7,256.34 L26.5,256.38 L27.3,256.42 L28.1,256.47 L28.9,256.53 L29.7,256.6 L30.5,256.67 L31.3,256.74 L32.1,256.82 L32.9,256.91 L33.7,257 L34.5,257.09 L35.3,257.19 L36.1,257.3 L36.9,257.41 L37.7,257.52 L38.5,257.64 L39.3,257.76 L40.1,257.88 L40.9,258.01 L41.7,258.14 L42.5,258.28 L43.3,258.42 L44.1,258.56 L44.9,258.71 L45.7,258.87 L46.5,259.02 L47.3,259.19 L48.1,259.37 L48.9,259.57 L49.7,259.79 L50.5,260.07 L51.3,260.45 L52.1,260.98 L52.9,261.77 L53.7,262.85 L54.5,264.47 L55.3,266.71 L56.1,269.4 L56.9,272.09 L57.7,274.33 L58.5,275.95 L59.3,276.99 L60.1,277.61 L60.9,277.96 L61.7,278.16 L62.5,278.27 L63.3,278.33 L64.1,278.36 L64.9,278.38 L65.7,278.39 L66.5,278.39 L67.3,278.4 L68.1,278.4 L68.9,278.4 L69.7,278.4 L70.5,278.4 L71.3,278.4 L72.1,278.4 L72.9,278.4 L73.7,278.4 L74.5,278.4 L75.3,278.4 L76.1,278.4 L76.9,278.4 L77.7,278.4 L78.5,278.4 L79.3,278.4 L80.1,278.4 L80.9,278.4 L81.7,278.4 L82.5,278.4 L83.3,278.4 L84.1,278.4 L84.9,278.4 L85.7,278.4" fill="none" stroke="#3fa0dc" stroke-width="0.55"/>
<path d="M24.1,257.5 L24.9,257.51 L25.7,257.54 L26.5,257.58 L27.3,257.63 L28.1,257.68 L28.9,257.74 L29.7,257.81 L30.5,257.88 L31.3,257.96 L32.1,258.05 L32.9,258.14 L33.7,258.24 L34.5,258.34 L35.3,258.44 L36.1,258.55 L36.9,258.67 L37.7,258.78 L38.5,258.91 L39.3,259.03 L40.1,259.17 L40.9,259.3 L41.7,259.44 L42.5,259.58 L43.3,259.73 L44.1,259.88 L44.9,260.04 L45.7,260.2 L46.5,260.38 L47.3,260.56 L48.1,260.76 L48.9,260.99 L49.7,261.28 L50.5,261.66 L51.3,262.2 L52.1,263 L52.9,264.05 L53.7,265.63 L54.5,267.79 L55.3,270.32 L56.1,272.8 L56.9,274.82 L57.7,276.26 L58.5,277.17 L59.3,277.71 L60.1,278.02 L60.9,278.19 L61.7,278.29 L62.5,278.34 L63.3,278.37 L64.1,278.38 L64.9,278.39 L65.7,278.39 L66.5,278.4 L67.3,278.4 L68.1,278.4 L68.9,278.4 L69.7,278.4 L70.5,278.4 L71.3,278.4 L72.1,278.4 L72.9,278.4 L73.7,278.4 L74.5,278.4 L75.3,278.4 L76.1,278.4 L76.9,278.4 L77.7,278.4 L78.5,278.4 L79.3,278.4 L80.1,278.4 L80.9,278.4 L81.7,278.4 L82.5,278.4 L83.3,278.4 L84.1,278.4 L84.9,278.4 L85.7,278.4" fill="none" stroke="#5ccaa8" stroke-width="0.55"/>
<path d="M24.1,261.1 L24.9,261.12 L25.7,261.16 L26.5,261.21 L27.3,261.28 L28.1,261.35 L28.9,261.44 L29.7,261.53 L30.5,261.64 L31.3,261.75 L32.1,261.87 L32.9,262 L33.7,262.13 L34.5,262.27 L35.3,262.42 L36.1,262.57 L36.9,262.73 L37.7,262.9 L38.5,263.07 L39.3,263.25 L40.1,263.43 L40.9,263.63 L41.7,263.83 L42.5,264.03 L43.3,264.25 L44.1,264.48 L44.9,264.74 L45.7,265.03 L46.5,265.37 L47.3,265.8 L48.1,266.36 L48.9,267.12 L49.7,267.97 L50.5,269.19 L51.3,270.77 L52.1,272.55 L52.9,274.26 L53.7,275.67 L54.5,276.7 L55.3,277.38 L56.1,277.8 L56.9,278.06 L57.7,278.2 L58.5,278.29 L59.3,278.34 L60.1,278.36 L60.9,278.38 L61.7,278.39 L62.5,278.39 L63.3,278.4 L64.1,278.4 L64.9,278.4 L65.7,278.4 L66.5,278.4 L67.3,278.4 L68.1,278.4 L68.9,278.4 L69.7,278.4 L70.5,278.4 L71.3,278.4 L72.1,278.4 L72.9,278.4 L73.7,278.4 L74.5,278.4 L75.3,278.4 L76.1,278.4 L76.9,278.4 L77.7,278.4 L78.5,278.4 L79.3,278.4 L80.1,278.4 L80.9,278.4 L81.7,278.4 L82.5,278.4 L83.3,278.4 L84.1,278.4 L84.9,278.4 L85.7,278.4" fill="none" stroke="#f0a04a" stroke-width="0.55"/>
<path d="M24.1,261.5 L24.9,261.52 L25.7,261.56 L26.5,261.61 L27.3,261.67 L28.1,261.75 L28.9,261.83 L29.7,261.93 L30.5,262.03 L31.3,262.14 L32.1,262.25 L32.9,262.38 L33.7,262.51 L34.5,262.65 L35.3,262.79 L36.1,262.94 L36.9,263.1 L37.7,263.26 L38.5,263.43 L39.3,263.61 L40.1,263.79 L40.9,263.98 L41.7,264.17 L42.5,264.37 L43.3,264.59 L44.1,264.81 L44.9,265.05 L45.7,265.32 L46.5,265.64 L47.3,266.02 L48.1,266.51 L48.9,267.17 L49.7,267.95 L50.5,268.99 L51.3,270.4 L52.1,272.08 L52.9,273.79 L53.7,275.29 L54.5,276.42 L55.3,277.2 L56.1,277.69 L56.9,277.99 L57.7,278.16 L58.5,278.27 L59.3,278.32 L60.1,278.36 L60.9,278.38 L61.7,278.39 L62.5,278.39 L63.3,278.4 L64.1,278.4 L64.9,278.4 L65.7,278.4 L66.5,278.4 L67.3,278.4 L68.1,278.4 L68.9,278.4 L69.7,278.4 L70.5,278.4 L71.3,278.4 L72.1,278.4 L72.9,278.4 L73.7,278.4 L74.5,278.4 L75.3,278.4 L76.1,278.4 L76.9,278.4 L77.7,278.4 L78.5,278.4 L79.3,278.4 L80.1,278.4 L80.9,278.4 L81.7,278.4 L82.5,278.4 L83.3,278.4 L84.1,278.4 L84.9,278.4 L85.7,278.4" fill="none" stroke="#9a5a3a" stroke-width="0.55"/>
<path d="M24.1,265.9 L24.9,265.91 L25.7,265.93 L26.5,265.96 L27.3,266 L28.1,266.04 L28.9,266.08 L29.7,266.13 L30.5,266.19 L31.3,266.25 L32.1,266.31 L32.9,266.38 L33.7,266.45 L34.5,266.53 L35.3,266.61 L36.1,266.69 L36.9,266.77 L37.7,266.86 L38.5,266.96 L39.3,267.05 L40.1,267.15 L40.9,267.25 L41.7,267.36 L42.5,267.47 L43.3,267.59 L44.1,267.71 L44.9,267.85 L45.7,268.01 L46.5,268.19 L47.3,268.42 L48.1,268.74 L48.9,269.18 L49.7,269.76 L50.5,270.53 L51.3,271.6 L52.1,272.92 L52.9,274.32 L53.7,275.6 L54.5,276.59 L55.3,277.29 L56.1,277.74 L56.9,278.02 L57.7,278.18 L58.5,278.27 L59.3,278.33 L60.1,278.36 L60.9,278.38 L61.7,278.39 L62.5,278.39 L63.3,278.4 L64.1,278.4 L64.9,278.4 L65.7,278.4 L66.5,278.4 L67.3,278.4 L68.1,278.4 L68.9,278.4 L69.7,278.4 L70.5,278.4 L71.3,278.4 L72.1,278.4 L72.9,278.4 L73.7,278.4 L74.5,278.4 L75.3,278.4 L76.1,278.4 L76.9,278.4 L77.7,278.4 L78.5,278.4 L79.3,278.4 L80.1,278.4 L80.9,278.4 L81.7,278.4 L82.5,278.4 L83.3,278.4 L84.1,278.4 L84.9,278.4 L85.7,278.4" fill="none" stroke="#7fd0c8" stroke-width="0.55"/>
<path d="M24.1,272.3 L24.9,272.31 L25.7,272.34 L26.5,272.37 L27.3,272.41 L28.1,272.46 L28.9,272.51 L29.7,272.57 L30.5,272.63 L31.3,272.7 L32.1,272.77 L32.9,272.85 L33.7,272.93 L34.5,273.02 L35.3,273.11 L36.1,273.21 L36.9,273.3 L37.7,273.41 L38.5,273.51 L39.3,273.62 L40.1,273.74 L40.9,273.86 L41.7,273.98 L42.5,274.11 L43.3,274.24 L44.1,274.38 L44.9,274.53 L45.7,274.68 L46.5,274.85 L47.3,275.04 L48.1,275.25 L48.9,275.49 L49.7,275.76 L50.5,276 L51.3,276.24 L52.1,276.53 L52.9,276.86 L53.7,277.19 L54.5,277.49 L55.3,277.75 L56.1,277.95 L56.9,278.09 L57.7,278.19 L58.5,278.27 L59.3,278.31 L60.1,278.34 L60.9,278.36 L61.7,278.38 L62.5,278.38 L63.3,278.39 L64.1,278.39 L64.9,278.4 L65.7,278.4 L66.5,278.4 L67.3,278.4 L68.1,278.4 L68.9,278.4 L69.7,278.4 L70.5,278.4 L71.3,278.4 L72.1,278.4 L72.9,278.4 L73.7,278.4 L74.5,278.4 L75.3,278.4 L76.1,278.4 L76.9,278.4 L77.7,278.4 L78.5,278.4 L79.3,278.4 L80.1,278.4 L80.9,278.4 L81.7,278.4 L82.5,278.4 L83.3,278.4 L84.1,278.4 L84.9,278.4 L85.7,278.4" fill="none" stroke="#e0a0a0" stroke-width="0.55"/>
<path d="M24.1,276.4 L24.9,276.41 L25.7,276.42 L26.5,276.43 L27.3,276.45 L28.1,276.47 L28.9,276.5 L29.7,276.53 L30.5,276.56 L31.3,276.59 L32.1,276.63 L32.9,276.67 L33.7,276.71 L34.5,276.75 L35.3,276.79 L36.1,276.84 L36.9,276.89 L37.7,276.95 L38.5,277 L39.3,277.06 L40.1,277.12 L40.9,277.19 L41.7,277.26 L42.5,277.33 L43.3,277.41 L44.1,277.49 L44.9,277.58 L45.7,277.67 L46.5,277.76 L47.3,277.83 L48.1,277.88 L48.9,277.93 L49.7,277.98 L50.5,278.03 L51.3,278.09 L52.1,278.13 L52.9,278.18 L53.7,278.22 L54.5,278.25 L55.3,278.28 L56.1,278.31 L56.9,278.33 L57.7,278.34 L58.5,278.36 L59.3,278.37 L60.1,278.37 L60.9,278.38 L61.7,278.38 L62.5,278.39 L63.3,278.39 L64.1,278.39 L64.9,278.39 L65.7,278.4 L66.5,278.4 L67.3,278.4 L68.1,278.4 L68.9,278.4 L69.7,278.4 L70.5,278.4 L71.3,278.4 L72.1,278.4 L72.9,278.4 L73.7,278.4 L74.5,278.4 L75.3,278.4 L76.1,278.4 L76.9,278.4 L77.7,278.4 L78.5,278.4 L79.3,278.4 L80.1,278.4 L80.9,278.4 L81.7,278.4 L82.5,278.4 L83.3,278.4 L84.1,278.4 L84.9,278.4 L85.7,278.4" fill="none" stroke="#a8dede" stroke-width="0.55"/>
<path d="M60,278.4 H86.4" stroke="#8d8d8d" stroke-width="0.7"/>
<text x="55.1" y="284.2" font-size="1.9" text-anchor="middle" fill="#222">Temperature (Deg C)</text>
<text transform="translate(20.4,264.3) rotate(-90)" font-size="1.9" text-anchor="middle" fill="#222">Fluorescence (F)</text>
<text x="24.7" y="281.8" font-size="1.7" text-anchor="middle" fill="#444">60</text>
<text x="42.2" y="281.8" font-size="1.7" text-anchor="middle" fill="#444">70</text>
<text x="59.7" y="281.8" font-size="1.7" text-anchor="middle" fill="#444">80</text>
<text x="77.2" y="281.8" font-size="1.7" text-anchor="middle" fill="#444">90</text>
<text x="22.8" y="254" font-size="1.7" text-anchor="end" fill="#444">100</text>
<text x="130.5" y="247.3" font-size="3.2" font-weight="bold" text-anchor="middle" fill="#111">Peak</text>
<rect x="99.3" y="249.5" width="61.8" height="30.1" fill="#fff" stroke="#8c8c8c" stroke-width="0.6"/>
<path d="M108.2,249.5 V279.6 M117.11,249.5 V279.6 M126.01,249.5 V279.6 M134.92,249.5 V279.6 M143.82,249.5 V279.6 M152.73,249.5 V279.6 M99.3,264.55 H161.1 " stroke="#e2e2e2" stroke-width="0.4" fill="none"/>
<path d="M120,278.8 L120.4,278.8 L120.8,278.8 L121.2,278.8 L121.6,278.8 L122,278.79 L122.4,278.77 L122.8,278.7 L123.2,278.52 L123.6,278.1 L124,277.22 L124.4,275.6 L124.8,272.97 L125.2,269.23 L125.6,264.63 L126,259.92 L126.4,256.13 L126.8,254.28 L127.2,254.91 L127.6,257.84 L128,262.23 L128.4,267 L128.8,271.23 L129.2,274.43 L129.6,276.52 L130,277.73 L130.4,278.35 L130.8,278.63 L131.2,278.74 L131.6,278.78 L132,278.79 L132.4,278.8 L132.8,278.8 L133.2,278.8 L133.6,278.8 L134,278.8 L134.4,278.8 L134.8,278.8 L135.2,278.8 L135.6,278.8 L136,278.8 L136.4,278.8 L136.8,278.8 L137.2,278.8 L137.6,278.8 L138,278.8 L138.4,278.8 L138.8,278.8" fill="none" stroke="#e8a05a" stroke-width="0.55"/>
<path d="M120,278.8 L120.4,278.8 L120.8,278.8 L121.2,278.8 L121.6,278.8 L122,278.8 L122.4,278.79 L122.8,278.76 L123.2,278.67 L123.6,278.44 L124,277.93 L124.4,276.9 L124.8,275.05 L125.2,272.14 L125.6,268.14 L126,263.43 L126.4,258.84 L126.8,255.45 L127.2,254.2 L127.6,255.45 L128,258.84 L128.4,263.43 L128.8,268.14 L129.2,272.14 L129.6,275.05 L130,276.9 L130.4,277.93 L130.8,278.44 L131.2,278.67 L131.6,278.76 L132,278.79 L132.4,278.8 L132.8,278.8 L133.2,278.8 L133.6,278.8 L134,278.8 L134.4,278.8 L134.8,278.8 L135.2,278.8 L135.6,278.8 L136,278.8 L136.4,278.8 L136.8,278.8 L137.2,278.8 L137.6,278.8 L138,278.8 L138.4,278.8 L138.8,278.8" fill="none" stroke="#b07a5a" stroke-width="0.55"/>
<path d="M120,278.8 L120.4,278.8 L120.8,278.8 L121.2,278.8 L121.6,278.8 L122,278.8 L122.4,278.8 L122.8,278.8 L123.2,278.8 L123.6,278.8 L124,278.8 L124.4,278.8 L124.8,278.8 L125.2,278.8 L125.6,278.8 L126,278.79 L126.4,278.78 L126.8,278.72 L127.2,278.58 L127.6,278.24 L128,277.5 L128.4,276.09 L128.8,273.74 L129.2,270.26 L129.6,265.83 L130,261.05 L130.4,256.93 L130.8,254.52 L131.2,254.52 L131.6,256.93 L132,261.05 L132.4,265.83 L132.8,270.26 L133.2,273.74 L133.6,276.09 L134,277.5 L134.4,278.24 L134.8,278.58 L135.2,278.72 L135.6,278.78 L136,278.79 L136.4,278.8 L136.8,278.8 L137.2,278.8 L137.6,278.8 L138,278.8 L138.4,278.8 L138.8,278.8" fill="none" stroke="#58c2d8" stroke-width="0.55"/>
<path d="M120,278.8 L120.4,278.8 L120.8,278.8 L121.2,278.8 L121.6,278.8 L122,278.8 L122.4,278.8 L122.8,278.8 L123.2,278.8 L123.6,278.8 L124,278.8 L124.4,278.8 L124.8,278.8 L125.2,278.8 L125.6,278.8 L126,278.8 L126.4,278.79 L126.8,278.77 L127.2,278.7 L127.6,278.52 L128,278.1 L128.4,277.22 L128.8,275.6 L129.2,272.97 L129.6,269.23 L130,264.63 L130.4,259.92 L130.8,256.13 L131.2,254.28 L131.6,254.91 L132,257.84 L132.4,262.23 L132.8,267 L133.2,271.23 L133.6,274.43 L134,276.52 L134.4,277.73 L134.8,278.35 L135.2,278.63 L135.6,278.74 L136,278.78 L136.4,278.79 L136.8,278.8 L137.2,278.8 L137.6,278.8 L138,278.8 L138.4,278.8 L138.8,278.8" fill="none" stroke="#6fd0c0" stroke-width="0.55"/>
<path d="M99.3,274.5 H161.1" stroke="#b5b5b5" stroke-width="0.5"/>
<path d="M99.3,278.8 H161.1" stroke="#8d8d8d" stroke-width="0.7"/>
<text x="130" y="284.2" font-size="1.9" text-anchor="middle" fill="#222">Temperature (Deg C)</text>
<text transform="translate(95.4,264.3) rotate(-90)" font-size="1.9" text-anchor="middle" fill="#222">-dF/dT</text>
<text x="99.7" y="282" font-size="1.7" text-anchor="middle" fill="#444">60</text>
<text x="117.5" y="282" font-size="1.7" text-anchor="middle" fill="#444">70</text>
<text x="135.3" y="282" font-size="1.7" text-anchor="middle" fill="#444">80</text>
<text x="153.1" y="282" font-size="1.7" text-anchor="middle" fill="#444">90</text>
<rect x="93.6" y="199.3" width="72.8" height="2.7" fill="#eef1f4" stroke="#c8c8c8" stroke-width="0.3"/>
<text x="96.4" y="201.4" font-size="1.8" text-anchor="middle" fill="#333">Well</text>
<text x="103.6" y="201.4" font-size="1.8" text-anchor="middle" fill="#333">Dye</text>
<text x="110.9" y="201.4" font-size="1.8" text-anchor="middle" fill="#333">Name</text>
<text x="118.2" y="201.4" font-size="1.8" text-anchor="middle" fill="#333">Ct</text>
<text x="125.5" y="201.4" font-size="1.8" text-anchor="middle" fill="#333">Tm</text>
<text x="132.7" y="201.4" font-size="1.8" text-anchor="middle" fill="#333">Type</text>
<text x="139.8" y="201.4" font-size="1.8" text-anchor="middle" fill="#333">Conc.</text>
<text x="147.3" y="201.4" font-size="1.8" text-anchor="middle" fill="#333">Group</text>
<text x="153.8" y="201.4" font-size="1.8" text-anchor="middle" fill="#333">Notes</text>
<text x="161.4" y="201.4" font-size="1.8" text-anchor="middle" fill="#333">Color</text>
<text x="96.4" y="204" font-size="1.8" text-anchor="middle" fill="#858585">1</text>
<text x="103.6" y="204" font-size="1.8" text-anchor="middle" fill="#858585">1</text>
<text x="110.9" y="204" font-size="1.8" text-anchor="middle" fill="#858585">FAM</text>
<text x="118.2" y="204" font-size="1.8" text-anchor="middle" fill="#858585">21.07</text>
<text x="125.5" y="204" font-size="1.8" text-anchor="middle" fill="#858585">75.80</text>
<text x="132.7" y="204" font-size="1.8" text-anchor="middle" fill="#858585">UNK</text>
<text x="139.8" y="204" font-size="1.8" text-anchor="middle" fill="#858585">0.00E+0</text>
<text x="147.3" y="204" font-size="1.8" text-anchor="middle" fill="#858585">A</text>
<rect x="158.2" y="202.1" width="6.5" height="2.46" fill="#111111"/>
<text x="96.4" y="206.47" font-size="1.8" text-anchor="middle" fill="#858585">2</text>
<text x="103.6" y="206.47" font-size="1.8" text-anchor="middle" fill="#858585">1</text>
<text x="110.9" y="206.47" font-size="1.8" text-anchor="middle" fill="#858585">FAM</text>
<text x="118.2" y="206.47" font-size="1.8" text-anchor="middle" fill="#858585">21.45</text>
<text x="125.5" y="206.47" font-size="1.8" text-anchor="middle" fill="#858585">75.60</text>
<text x="132.7" y="206.47" font-size="1.8" text-anchor="middle" fill="#858585">UNK</text>
<text x="139.8" y="206.47" font-size="1.8" text-anchor="middle" fill="#858585">0.00E+0</text>
<text x="147.3" y="206.47" font-size="1.8" text-anchor="middle" fill="#858585">A</text>
<rect x="158.2" y="204.57" width="6.5" height="2.46" fill="#ee1c1c"/>
<text x="96.4" y="208.94" font-size="1.8" text-anchor="middle" fill="#858585">3</text>
<text x="103.6" y="208.94" font-size="1.8" text-anchor="middle" fill="#858585">1</text>
<text x="110.9" y="208.94" font-size="1.8" text-anchor="middle" fill="#858585">FAM</text>
<text x="118.2" y="208.94" font-size="1.8" text-anchor="middle" fill="#858585">25.80</text>
<text x="125.5" y="208.94" font-size="1.8" text-anchor="middle" fill="#858585">75.90</text>
<text x="132.7" y="208.94" font-size="1.8" text-anchor="middle" fill="#858585">UNK</text>
<text x="139.8" y="208.94" font-size="1.8" text-anchor="middle" fill="#858585">0.00E+0</text>
<text x="147.3" y="208.94" font-size="1.8" text-anchor="middle" fill="#858585">A</text>
<rect x="158.2" y="207.04" width="6.5" height="2.46" fill="#f7c21a"/>
<text x="96.4" y="211.41" font-size="1.8" text-anchor="middle" fill="#858585">4</text>
<text x="103.6" y="211.41" font-size="1.8" text-anchor="middle" fill="#858585">1</text>
<text x="110.9" y="211.41" font-size="1.8" text-anchor="middle" fill="#858585">FAM</text>
<text x="118.2" y="211.41" font-size="1.8" text-anchor="middle" fill="#858585">26.12</text>
<text x="125.5" y="211.41" font-size="1.8" text-anchor="middle" fill="#858585">80.11</text>
<text x="132.7" y="211.41" font-size="1.8" text-anchor="middle" fill="#858585">UNK</text>
<text x="139.8" y="211.41" font-size="1.8" text-anchor="middle" fill="#858585">0.00E+0</text>
<text x="147.3" y="211.41" font-size="1.8" text-anchor="middle" fill="#858585">A</text>
<rect x="158.2" y="209.51" width="6.5" height="2.46" fill="#0c9494"/>
<text x="96.4" y="213.88" font-size="1.8" text-anchor="middle" fill="#858585">5</text>
<text x="103.6" y="213.88" font-size="1.8" text-anchor="middle" fill="#858585">1</text>
<text x="110.9" y="213.88" font-size="1.8" text-anchor="middle" fill="#858585">FAM</text>
<text x="118.2" y="213.88" font-size="1.8" text-anchor="middle" fill="#858585">11.87</text>
<text x="125.5" y="213.88" font-size="1.8" text-anchor="middle" fill="#858585">80.05</text>
<text x="132.7" y="213.88" font-size="1.8" text-anchor="middle" fill="#858585">UNK</text>
<text x="139.8" y="213.88" font-size="1.8" text-anchor="middle" fill="#858585">0.00E+0</text>
<text x="147.3" y="213.88" font-size="1.8" text-anchor="middle" fill="#858585">A</text>
<rect x="158.2" y="211.98" width="6.5" height="2.46" fill="#0f8a3a"/>
<text x="96.4" y="216.35" font-size="1.8" text-anchor="middle" fill="#858585">6</text>
<text x="103.6" y="216.35" font-size="1.8" text-anchor="middle" fill="#858585">1</text>
<text x="110.9" y="216.35" font-size="1.8" text-anchor="middle" fill="#858585">FAM</text>
<text x="118.2" y="216.35" font-size="1.8" text-anchor="middle" fill="#858585">28.43</text>
<text x="125.5" y="216.35" font-size="1.8" text-anchor="middle" fill="#858585">80.21</text>
<text x="132.7" y="216.35" font-size="1.8" text-anchor="middle" fill="#858585">UNK</text>
<text x="139.8" y="216.35" font-size="1.8" text-anchor="middle" fill="#858585">0.00E+0</text>
<text x="147.3" y="216.35" font-size="1.8" text-anchor="middle" fill="#858585">A</text>
<rect x="158.2" y="214.45" width="6.5" height="2.46" fill="#1b3fe0"/>
<text x="96.4" y="218.82" font-size="1.8" text-anchor="middle" fill="#858585">7</text>
<text x="103.6" y="218.82" font-size="1.8" text-anchor="middle" fill="#858585">1</text>
<text x="110.9" y="218.82" font-size="1.8" text-anchor="middle" fill="#858585">FAM</text>
<text x="118.2" y="218.82" font-size="1.8" text-anchor="middle" fill="#858585">28.71</text>
<text x="125.5" y="218.82" font-size="1.8" text-anchor="middle" fill="#858585">77.90</text>
<text x="132.7" y="218.82" font-size="1.8" text-anchor="middle" fill="#858585">UNK</text>
<text x="139.8" y="218.82" font-size="1.8" text-anchor="middle" fill="#858585">0.00E+0</text>
<text x="147.3" y="218.82" font-size="1.8" text-anchor="middle" fill="#858585">A</text>
<rect x="158.2" y="216.92" width="6.5" height="2.46" fill="#22e0f2"/>
<text x="96.4" y="221.29" font-size="1.8" text-anchor="middle" fill="#858585">8</text>
<text x="103.6" y="221.29" font-size="1.8" text-anchor="middle" fill="#858585">1</text>
<text x="110.9" y="221.29" font-size="1.8" text-anchor="middle" fill="#858585">FAM</text>
<text x="118.2" y="221.29" font-size="1.8" text-anchor="middle" fill="#858585">30.90</text>
<text x="125.5" y="221.29" font-size="1.8" text-anchor="middle" fill="#858585">75.85</text>
<text x="132.7" y="221.29" font-size="1.8" text-anchor="middle" fill="#858585">UNK</text>
<text x="139.8" y="221.29" font-size="1.8" text-anchor="middle" fill="#858585">0.00E+0</text>
<text x="147.3" y="221.29" font-size="1.8" text-anchor="middle" fill="#858585">A</text>
<rect x="158.2" y="219.39" width="6.5" height="2.46" fill="#ee7ad6"/>
<text x="96.4" y="223.76" font-size="1.8" text-anchor="middle" fill="#858585">9</text>
<text x="103.6" y="223.76" font-size="1.8" text-anchor="middle" fill="#858585">1</text>
<text x="110.9" y="223.76" font-size="1.8" text-anchor="middle" fill="#858585">FAM</text>
<text x="118.2" y="223.76" font-size="1.8" text-anchor="middle" fill="#858585">31.22</text>
<text x="125.5" y="223.76" font-size="1.8" text-anchor="middle" fill="#858585">75.70</text>
<text x="132.7" y="223.76" font-size="1.8" text-anchor="middle" fill="#858585">UNK</text>
<text x="139.8" y="223.76" font-size="1.8" text-anchor="middle" fill="#858585">0.00E+0</text>
<text x="147.3" y="223.76" font-size="1.8" text-anchor="middle" fill="#858585">A</text>
<rect x="158.2" y="221.86" width="6.5" height="2.46" fill="#28e03c"/>
<text x="96.4" y="226.23" font-size="1.8" text-anchor="middle" fill="#858585">10</text>
<text x="103.6" y="226.23" font-size="1.8" text-anchor="middle" fill="#858585">1</text>
<text x="110.9" y="226.23" font-size="1.8" text-anchor="middle" fill="#858585">FAM</text>
<text x="118.2" y="226.23" font-size="1.8" text-anchor="middle" fill="#858585">N/A</text>
<text x="125.5" y="226.23" font-size="1.8" text-anchor="middle" fill="#858585">80.10</text>
<text x="132.7" y="226.23" font-size="1.8" text-anchor="middle" fill="#858585">UNK</text>
<text x="139.8" y="226.23" font-size="1.8" text-anchor="middle" fill="#858585">0.00E+0</text>
<text x="147.3" y="226.23" font-size="1.8" text-anchor="middle" fill="#858585">A</text>
<rect x="158.2" y="224.33" width="6.5" height="2.46" fill="#8c1414"/>
</g>
<g id="panelE">
<text x="181.2" y="170.4" font-size="11.7" font-weight="bold" fill="#000">E</text>
<defs><clipPath id="clipE"><rect x="207" y="177.3" width="149.6" height="111.8"/></clipPath></defs>
<g clip-path="url(#clipE)" fill="none" stroke-linejoin="round">
<path d="M207,281.2 L208,281.2 L209,281.2 L210,281.2 L211,281.2 L212,281.2 L213,281.2 L214,281.2 L215,281.2 L216,281.2 L217,281.2 L218,281.2 L219,281.2 L220,281.2 L221,281.2 L222,281.2 L223,281.2 L224,281.2 L225,281.2 L226,281.2 L227,281.2 L228,281.2 L229,281.21 L230,281.21 L231,281.21 L232,281.21 L233,281.21 L234,281.21 L235,281.21 L236,281.21 L237,281.21 L238,281.21 L239,281.21 L240,281.21 L241,281.21 L242,281.21 L243,281.22 L244,281.22 L245,281.22 L246,281.22 L247,281.22 L248,281.22 L249,281.22 L250,281.22 L251,281.23 L252,281.23 L253,281.23 L254,281.23 L255,281.23 L256,281.23 L257,281.24 L258,281.24 L259,281.24 L260,281.24 L261,281.24 L262,281.24 L263,281.25 L264,281.25 L265,281.25 L266,281.25 L267,281.26 L268,281.26 L269,281.26 L270,281.26 L271,281.26 L272,281.27 L273,281.27 L274,281.27 L275,281.28 L276,281.28 L277,281.28 L278,281.28 L279,281.29 L280,281.29 L281,281.3 L282,281.31 L283,281.32 L284,281.34 L285,281.36 L286,281.39 L287,281.41 L288,281.43 L289,281.43 L290,281.42 L291,281.38 L292,281.32 L293,281.22 L294,281.09 L295,280.93 L296,280.72 L297,280.47 L298,280.18 L299,279.85 L300,279.47 L301,279.05 L302,278.58 L303,278.06 L304,277.49 L305,276.87 L306,276.19 L307,275.45 L308,274.64 L309,273.75 L310,272.78 L311,271.72 L312,270.57 L313,269.33 L314,268.01 L315,266.6 L316,265.04 L317,263.31 L318,261.33 L319,259.11 L320,256.68 L321,254.13 L322,251.57 L323,249.08 L324,246.68 L325,244.33 L326,241.96 L327,239.5 L328,236.9 L329,234.17 L330,231.36 L331,228.56 L332,225.83 L333,223.24 L334,220.81 L335,218.52 L336,216.35 L337,214.25 L338,212.22 L339,210.26 L340,208.37 L341,206.58 L342,204.91 L343,203.37 L344,201.97 L345,200.7 L346,199.57 L347,198.57 L348,197.69 L349,196.93 L350,196.27 L351,195.69 L352,195.19 L353,194.76 L354,194.38 L355,194.06 L356,193.8 L357,193.61" stroke="#4f9fe3" stroke-width="1.15"/>
<path d="M207,279.2 L208,279.2 L209,279.2 L210,279.2 L211,279.2 L212,279.2 L213,279.2 L214,279.2 L215,279.2 L216,279.2 L217,279.2 L218,279.2 L219,279.2 L220,279.2 L221,279.2 L222,279.2 L223,279.2 L224,279.2 L225,279.2 L226,279.2 L227,279.2 L228,279.2 L229,279.2 L230,279.2 L231,279.2 L232,279.2 L233,279.2 L234,279.2 L235,279.2 L236,279.2 L237,279.2 L238,279.2 L239,279.2 L240,279.2 L241,279.2 L242,279.2 L243,279.2 L244,279.2 L245,279.2 L246,279.2 L247,279.2 L248,279.2 L249,279.2 L250,279.2 L251,279.2 L252,279.2 L253,279.2 L254,279.2 L255,279.2 L256,279.2 L257,279.2 L258,279.2 L259,279.2 L260,279.2 L261,279.2 L262,279.2 L263,279.2 L264,279.2 L265,279.19 L266,279.18 L267,279.15 L268,279.1 L269,279.02 L270,278.91 L271,278.75 L272,278.55 L273,278.31 L274,278.01 L275,277.66 L276,277.26 L277,276.82 L278,276.34 L279,275.82 L280,275.27 L281,274.69 L282,274.06 L283,273.39 L284,272.66 L285,271.87 L286,271.02 L287,270.11 L288,269.14 L289,268.1 L290,267 L291,265.82 L292,264.57 L293,263.24 L294,261.82 L295,260.31 L296,258.71 L297,257.04 L298,255.3 L299,253.51 L300,251.68 L301,249.81 L302,247.91 L303,245.96 L304,243.97 L305,241.9 L306,239.76 L307,237.51 L308,235.16 L309,232.73 L310,230.26 L311,227.8 L312,225.37 L313,223.02 L314,220.75 L315,218.54 L316,216.36 L317,214.19 L318,212.02 L319,209.86 L320,207.71 L321,205.61 L322,203.59 L323,201.66 L324,199.85 L325,198.13 L326,196.52 L327,194.98 L328,193.52 L329,192.13 L330,190.81 L331,189.56 L332,188.39 L333,187.29 L334,186.27 L335,185.32 L336,184.44 L337,183.63 L338,182.89 L339,182.21 L340,181.57 L341,180.99 L342,180.44 L343,179.92 L344,179.43 L345,178.98 L346,178.55 L347,178.16 L348,177.79 L349,177.46 L350,177.15 L351,176.87 L352,176.61 L353,176.37 L354,176.17 L355,176 L356,175.86 L357,175.76" stroke="#ffa726" stroke-width="1.15"/>
<path d="M207,278.2 L208,278.2 L209,278.2 L210,278.2 L211,278.2 L212,278.2 L213,278.2 L214,278.2 L215,278.2 L216,278.2 L217,278.2 L218,278.2 L219,278.2 L220,278.2 L221,278.2 L222,278.2 L223,278.2 L224,278.2 L225,278.2 L226,278.2 L227,278.2 L228,278.2 L229,278.2 L230,278.2 L231,278.2 L232,278.2 L233,278.2 L234,278.2 L235,278.2 L236,278.2 L237,278.2 L238,278.2 L239,278.2 L240,278.2 L241,278.2 L242,278.2 L243,278.2 L244,278.2 L245,278.2 L246,278.2 L247,278.2 L248,278.2 L249,278.2 L250,278.2 L251,278.2 L252,278.2 L253,278.2 L254,278.2 L255,278.2 L256,278.2 L257,278.2 L258,278.2 L259,278.2 L260,278.2 L261,278.2 L262,278.2 L263,278.2 L264,278.2 L265,278.2 L266,278.2 L267,278.2 L268,278.2 L269,278.19 L270,278.19 L271,278.18 L272,278.17 L273,278.15 L274,278.12 L275,278.1 L276,278.06 L277,278.02 L278,277.97 L279,277.9 L280,277.82 L281,277.71 L282,277.58 L283,277.4 L284,277.18 L285,276.9 L286,276.57 L287,276.19 L288,275.75 L289,275.26 L290,274.73 L291,274.15 L292,273.52 L293,272.84 L294,272.12 L295,271.34 L296,270.52 L297,269.65 L298,268.74 L299,267.79 L300,266.79 L301,265.74 L302,264.61 L303,263.4 L304,262.06 L305,260.59 L306,258.95 L307,257.15 L308,255.19 L309,253.1 L310,250.92 L311,248.7 L312,246.49 L313,244.31 L314,242.14 L315,239.98 L316,237.81 L317,235.61 L318,233.38 L319,231.12 L320,228.84 L321,226.57 L322,224.31 L323,222.07 L324,219.86 L325,217.67 L326,215.51 L327,213.39 L328,211.3 L329,209.26 L330,207.28 L331,205.38 L332,203.58 L333,201.89 L334,200.34 L335,198.92 L336,197.63 L337,196.46 L338,195.42 L339,194.5 L340,193.68 L341,192.95 L342,192.29 L343,191.68 L344,191.12 L345,190.58 L346,190.08 L347,189.61 L348,189.18 L349,188.78 L350,188.41 L351,188.07 L352,187.77 L353,187.5 L354,187.26 L355,187.06 L356,186.91 L357,186.79" stroke="#0fb84a" stroke-width="1.15"/>
<path d="M207,277.3 L208,277.3 L209,277.3 L210,277.3 L211,277.3 L212,277.3 L213,277.3 L214,277.3 L215,277.3 L216,277.3 L217,277.3 L218,277.3 L219,277.3 L220,277.3 L221,277.3 L222,277.3 L223,277.3 L224,277.3 L225,277.3 L226,277.3 L227,277.3 L228,277.3 L229,277.3 L230,277.3 L231,277.3 L232,277.3 L233,277.3 L234,277.3 L235,277.3 L236,277.3 L237,277.3 L238,277.3 L239,277.29 L240,277.28 L241,277.27 L242,277.25 L243,277.22 L244,277.19 L245,277.14 L246,277.09 L247,277.03 L248,276.96 L249,276.87 L250,276.75 L251,276.62 L252,276.44 L253,276.23 L254,275.96 L255,275.64 L256,275.27 L257,274.85 L258,274.4 L259,273.92 L260,273.41 L261,272.89 L262,272.35 L263,271.79 L264,271.21 L265,270.6 L266,269.95 L267,269.27 L268,268.53 L269,267.72 L270,266.83 L271,265.85 L272,264.76 L273,263.56 L274,262.24 L275,260.82 L276,259.29 L277,257.7 L278,256.06 L279,254.38 L280,252.67 L281,250.91 L282,249.11 L283,247.25 L284,245.33 L285,243.35 L286,241.32 L287,239.23 L288,237.11 L289,234.96 L290,232.8 L291,230.65 L292,228.53 L293,226.45 L294,224.43 L295,222.47 L296,220.57 L297,218.72 L298,216.92 L299,215.16 L300,213.44 L301,211.74 L302,210.08 L303,208.45 L304,206.85 L305,205.3 L306,203.8 L307,202.35 L308,200.96 L309,199.63 L310,198.36 L311,197.15 L312,196.01 L313,194.93 L314,193.91 L315,192.95 L316,192.04 L317,191.19 L318,190.38 L319,189.63 L320,188.93 L321,188.3 L322,187.71 L323,187.19 L324,186.72 L325,186.3 L326,185.92 L327,185.59 L328,185.29 L329,185.03 L330,184.8 L331,184.59 L332,184.42 L333,184.27 L334,184.14 L335,184.04 L336,183.95 L337,183.89 L338,183.84 L339,183.81 L340,183.79 L341,183.77 L342,183.76 L343,183.75 L344,183.74 L345,183.74 L346,183.73 L347,183.73 L348,183.72 L349,183.72 L350,183.71 L351,183.71 L352,183.71 L353,183.7 L354,183.7 L355,183.7 L356,183.7 L357,183.7" stroke="#ff3b63" stroke-width="1.15"/>
<path d="M207,276.9 L357,275.1" stroke="#c43fb5" stroke-width="0.8"/>
<path d="M207.4,264.9 L207.9,265.36 L208.4,265.82 L208.9,266.26 L209.4,266.7 L209.9,267.13 L210.4,267.55 L210.9,267.96 L211.4,268.37 L211.9,268.78 L212.4,269.17 L212.9,269.56 L213.4,269.93 L213.9,270.29 L214.4,270.64 L214.9,270.96 L215.4,271.28 L215.9,271.58 L216.4,271.88 L216.9,272.17 L217.4,272.47 L217.9,272.76 L218.4,273.05 L218.9,273.35 L219.4,273.64 L219.9,273.93 L220.4,274.21 L220.9,274.48 L221.4,274.75 L221.9,275 L222.4,275.24 L222.9,275.48 L223.4,275.7 L223.9,275.93 L224.4,276.15 L224.9,276.36 L225.4,276.57 L225.9,276.77 L226.4,276.97 L226.9,277.17 L227.4,277.37 L227.9,277.56 L228.4,277.76 L228.9,277.95 L229.4,278.15 L229.9,278.36 L230.4,278.56 L230.9,278.77 L231.4,278.98 L231.9,279.18 L232.4,279.38 L232.9,279.58 L233.4,279.77 L233.9,279.96 L234.4,280.13 L234.9,280.3 L235.4,280.47 L235.9,280.62 L236.4,280.76 L236.9,280.89 L237.4,281 L237.9,281.1 L238.4,281.19 L238.9,281.26 L239.4,281.32 L239.9,281.39 L240.4,281.44 L240.9,281.5 L241.4,281.55 L241.9,281.6 L242.4,281.64 L242.9,281.68 L243.4,281.73 L243.9,281.77 L244.4,281.8 L244.9,281.84 L245.4,281.88 L245.9,281.92 L246.4,281.96 L246.9,282 L247.4,282.04 L247.9,282.08 L248.4,282.13 L248.9,282.17 L249.4,282.21 L249.9,282.25 L250.4,282.29 L250.9,282.33 L251.4,282.36 L251.9,282.4 L252.4,282.43 L252.9,282.47 L253.4,282.5 L253.9,282.54 L254.4,282.58 L254.9,282.61 L255.4,282.65 L255.9,282.69 L256.4,282.73 L256.9,282.77 L257.4,282.81 L257.9,282.86 L258.4,282.91 L258.9,282.96 L259.4,283.01 L259.9,283.07 L260.4,283.13 L260.9,283.19 L261.4,283.26 L261.9,283.34 L262.4,283.43 L262.9,283.54 L263.4,283.65 L263.9,283.76 L264.4,283.87 L264.9,283.99 L265.4,284.1 L265.9,284.21 L266.4,284.32 L266.9,284.44 L267.4,284.56 L267.9,284.68 L268.4,284.79 L268.9,284.91 L269.4,285.03 L269.9,285.15 L270.4,285.26 L270.9,285.38 L271.4,285.51 L271.9,285.63 L272.4,285.75 L272.9,285.86 L273.4,285.97 L273.9,286.08 L274.4,286.18 L274.9,286.28 L275.4,286.37 L275.9,286.47 L276.4,286.56 L276.9,286.65 L277.4,286.73 L277.9,286.81 L278.4,286.88 L278.9,286.95 L279.4,287 L279.9,287.05 L280.4,287.1 L280.9,287.15 L281.4,287.19 L281.9,287.23 L282.4,287.26 L282.9,287.28 L283.4,287.3 L283.9,287.3 L284.4,287.29 L284.9,287.28 L285.4,287.26 L285.9,287.24 L286.4,287.21 L286.9,287.18 L287.4,287.14 L287.9,287.11 L288.4,287.06 L288.9,287 L289.4,286.93 L289.9,286.84 L290.4,286.75 L290.9,286.64 L291.4,286.53 L291.9,286.42 L292.4,286.31 L292.9,286.18 L293.4,286.05 L293.9,285.91 L294.4,285.75 L294.9,285.59 L295.4,285.42 L295.9,285.25 L296.4,285.06 L296.9,284.86 L297.4,284.65 L297.9,284.43 L298.4,284.19 L298.9,283.93 L299.4,283.67 L299.9,283.4 L300.4,283.12 L300.9,282.82 L301.4,282.51 L301.9,282.17 L302.4,281.82 L302.9,281.45 L303.4,281.07 L303.9,280.69 L304.4,280.3 L304.9,279.91 L305.4,279.51 L305.9,279.1 L306.4,278.68 L306.9,278.24 L307.4,277.78 L307.9,277.3 L308.4,276.79 L308.9,276.25 L309.4,275.68 L309.9,275.08 L310.4,272.07 L310.9,271.53 L311.4,270.97 L311.9,270.39 L312.4,269.78 L312.9,269.16 L313.4,268.52 L313.9,267.85 L314.4,267.16 L314.9,266.44 L315.4,265.69 L315.9,264.91 L316.4,264.07 L316.9,263.19 L317.4,262.25 L317.9,261.24 L318.4,260.17 L318.9,259.04 L319.4,257.86 L319.9,256.63 L320.4,255.36 L320.9,254.08 L321.4,252.8 L321.9,251.52 L322.4,250.26 L322.9,249.02 L323.4,247.81 L323.9,246.61 L324.4,245.44 L324.9,244.26 L325.4,243.09 L325.9,241.9 L326.4,240.69 L326.9,239.45 L327.4,238.17 L327.9,236.86 L328.4,235.52 L328.9,234.14 L329.4,232.75 L329.9,231.34 L330.4,229.93 L330.9,228.53 L331.4,227.15 L331.9,225.8 L332.4,224.48 L332.9,223.2 L333.4,221.95 L333.9,220.75 L334.4,219.58 L334.9,218.45 L335.4,217.34 L335.9,216.26 L336.4,215.2 L336.9,214.16 L337.4,213.13 L337.9,212.12 L338.4,211.13 L338.9,210.15 L339.4,209.2 L339.9,208.26 L340.4,207.34 L340.9,206.46 L341.4,205.6 L341.9,204.77 L342.4,203.98 L342.9,203.22 L343.4,202.49 L343.9,201.8 L344.4,201.14 L344.9,200.52 L345.4,199.93 L345.9,199.38 L346.4,198.85 L346.9,198.36 L347.4,197.9 L347.9,197.47 L348.4,197.07 L348.9,196.7 L349.4,196.35 L349.9,196.03 L350.4,195.73 L350.9,195.45 L351.4,195.19 L351.9,194.94 L352.4,194.71 L352.9,194.5 L353.4,194.3 L353.9,194.11 L354.4,193.94 L354.9,193.79 L355.4,193.65 L355.9,193.53 L356.4,193.42" fill="none" stroke="#6fb1ea" stroke-width="2" stroke-linecap="round" stroke-dasharray="0.01 3.7"/>
<path d="M207.4,272.76 L207.9,273.07 L208.4,273.37 L208.9,273.66 L209.4,273.92 L209.9,274.17 L210.4,274.4 L210.9,274.61 L211.4,274.8 L211.9,274.97 L212.4,275.11 L212.9,275.23 L213.4,275.34 L213.9,275.44 L214.4,275.54 L214.9,275.64 L215.4,275.75 L215.9,275.88 L216.4,276.03 L216.9,276.19 L217.4,276.36 L217.9,276.54 L218.4,276.72 L218.9,276.9 L219.4,277.08 L219.9,277.25 L220.4,277.4 L220.9,277.55 L221.4,277.68 L221.9,277.78 L222.4,277.87 L222.9,277.95 L223.4,278.03 L223.9,278.1 L224.4,278.17 L224.9,278.24 L225.4,278.3 L225.9,278.36 L226.4,278.41 L226.9,278.47 L227.4,278.52 L227.9,278.57 L228.4,278.62 L228.9,278.67 L229.4,278.72 L229.9,278.76 L230.4,278.81 L230.9,278.86 L231.4,278.9 L231.9,278.95 L232.4,279 L232.9,279.06 L233.4,279.11 L233.9,279.17 L234.4,279.23 L234.9,279.29 L235.4,279.35 L235.9,279.42 L236.4,279.49 L236.9,279.56 L237.4,279.63 L237.9,279.7 L238.4,279.77 L238.9,279.84 L239.4,279.92 L239.9,279.99 L240.4,280.07 L240.9,280.14 L241.4,280.22 L241.9,280.3 L242.4,280.37 L242.9,280.45 L243.4,280.53 L243.9,280.6 L244.4,280.68 L244.9,280.76 L245.4,280.83 L245.9,280.91 L246.4,280.99 L246.9,281.06 L247.4,281.13 L247.9,281.21 L248.4,281.28 L248.9,281.35 L249.4,281.42 L249.9,281.49 L250.4,281.56 L250.9,281.63 L251.4,281.7 L251.9,281.78 L252.4,281.86 L252.9,281.94 L253.4,282.03 L253.9,282.11 L254.4,282.19 L254.9,282.28 L255.4,282.36 L255.9,282.44 L256.4,282.51 L256.9,282.59 L257.4,282.65 L257.9,282.72 L258.4,282.78 L258.9,282.83 L259.4,282.88 L259.9,282.92 L260.4,282.95 L260.9,282.98 L261.4,282.99 L261.9,283 L262.4,283 L262.9,282.99 L263.4,282.98 L263.9,282.97 L264.4,282.95 L264.9,282.93 L265.4,282.91 L265.9,282.88 L266.4,282.85 L266.9,282.81 L267.4,282.77 L267.9,282.73 L268.4,282.69 L268.9,282.64 L269.4,282.59 L269.9,282.54 L270.4,282.49 L270.9,282.43 L271.4,282.37 L271.9,282.31 L272.4,282.24 L272.9,282.14 L273.4,282.02 L273.9,281.87 L274.4,281.7 L274.9,281.52 L275.4,281.31 L275.9,281.09 L276.4,280.86 L276.9,280.61 L277.4,280.36 L277.9,280.09 L278.4,279.83 L278.9,279.55 L279.4,279.27 L279.9,278.96 L280.4,278.62 L280.9,278.26 L281.4,277.87 L281.9,277.46 L282.4,277.03 L282.9,276.58 L283.4,276.12 L283.9,275.64 L284.4,275.14 L284.9,274.64 L285.4,274.13 L285.9,273.6 L286.4,273.07 L286.9,272.51 L287.4,271.92 L287.9,271.31 L288.4,270.67 L288.9,270.01 L289.4,269.33 L289.9,268.63 L290.4,266.24 L290.9,265.64 L291.4,265.03 L291.9,264.4 L292.4,263.75 L292.9,263.08 L293.4,262.38 L293.9,261.66 L294.4,260.92 L294.9,260.16 L295.4,259.38 L295.9,258.57 L296.4,257.75 L296.9,256.91 L297.4,256.05 L297.9,255.17 L298.4,254.29 L298.9,253.39 L299.4,252.48 L299.9,251.56 L300.4,250.64 L300.9,249.7 L301.4,248.75 L301.9,247.8 L302.4,246.83 L302.9,245.86 L303.4,244.87 L303.9,243.87 L304.4,242.85 L304.9,241.81 L305.4,240.76 L305.9,239.67 L306.4,238.57 L306.9,237.44 L307.4,236.28 L307.9,235.1 L308.4,233.9 L308.9,232.68 L309.4,231.45 L309.9,230.21 L310.4,228.97 L310.9,227.74 L311.4,226.52 L311.9,225.31 L312.4,224.13 L312.9,222.96 L313.4,221.81 L313.9,220.67 L314.4,219.56 L314.9,218.46 L315.4,217.36 L315.9,216.28 L316.4,215.19 L316.9,214.11 L317.4,213.03 L317.9,211.94 L318.4,210.86 L318.9,209.77 L319.4,208.69 L319.9,207.62 L320.4,206.56 L320.9,205.52 L321.4,204.49 L321.9,203.48 L322.4,202.5 L322.9,201.55 L323.4,200.62 L323.9,199.72 L324.4,198.85 L324.9,198 L325.4,197.18 L325.9,196.37 L326.4,195.59 L326.9,194.83 L327.4,194.09 L327.9,193.36 L328.4,192.66 L328.9,191.97 L329.4,191.3 L329.9,190.64 L330.4,190 L330.9,189.39 L331.4,188.79 L331.9,188.2 L332.4,187.64 L332.9,187.1 L333.4,186.57 L333.9,186.07 L334.4,185.58 L334.9,185.11 L335.4,184.66 L335.9,184.23 L336.4,183.81 L336.9,183.41 L337.4,183.03 L337.9,182.66 L338.4,182.31 L338.9,181.97 L339.4,181.65 L339.9,181.34 L340.4,181.03 L340.9,180.74 L341.4,180.46 L341.9,180.19 L342.4,179.93 L342.9,179.67 L343.4,179.42 L343.9,179.18 L344.4,178.95 L344.9,178.72 L345.4,178.5" fill="none" stroke="#ffa726" stroke-width="1.9" stroke-linecap="round" stroke-dasharray="0.01 3.7"/>
<path d="M207.4,271.5 L207.9,272.08 L208.4,272.63 L208.9,273.15 L209.4,273.65 L209.9,274.1 L210.4,274.52 L210.9,274.91 L211.4,275.3 L211.9,275.67 L212.4,276.01 L212.9,276.31 L213.4,276.57 L213.9,276.77 L214.4,276.92 L214.9,277.05 L215.4,277.18 L215.9,277.3 L216.4,277.41 L216.9,277.5 L217.4,277.59 L217.9,277.67 L218.4,277.74 L218.9,277.8 L219.4,277.85 L219.9,277.89 L220.4,277.93 L220.9,277.96 L221.4,277.99 L221.9,278.02 L222.4,278.05 L222.9,278.08 L223.4,278.1 L223.9,278.13 L224.4,278.15 L224.9,278.18 L225.4,278.2 L225.9,278.22 L226.4,278.24 L226.9,278.26 L227.4,278.28 L227.9,278.3 L228.4,278.32 L228.9,278.34 L229.4,278.35 L229.9,278.37 L230.4,278.38 L230.9,278.4 L231.4,278.41 L231.9,278.43 L232.4,278.44 L232.9,278.45 L233.4,278.47 L233.9,278.48 L234.4,278.49 L234.9,278.5 L235.4,278.51 L235.9,278.52 L236.4,278.53 L236.9,278.54 L237.4,278.55 L237.9,278.56 L238.4,278.57 L238.9,278.58 L239.4,278.59 L239.9,278.6 L240.4,278.61 L240.9,278.62 L241.4,278.63 L241.9,278.63 L242.4,278.64 L242.9,278.65 L243.4,278.66 L243.9,278.67 L244.4,278.68 L244.9,278.69 L245.4,278.7 L245.9,278.7 L246.4,278.71 L246.9,278.72 L247.4,278.73 L247.9,278.74 L248.4,278.75 L248.9,278.75 L249.4,278.76 L249.9,278.77 L250.4,278.78 L250.9,278.79 L251.4,278.79 L251.9,278.8 L252.4,278.81 L252.9,278.82 L253.4,278.82 L253.9,278.83 L254.4,278.84 L254.9,278.84 L255.4,278.85 L255.9,278.86 L256.4,278.86 L256.9,278.87 L257.4,278.88 L257.9,278.88 L258.4,278.89 L258.9,278.9 L259.4,278.9 L259.9,278.91 L260.4,278.91 L260.9,278.92 L261.4,278.92 L261.9,278.93 L262.4,278.93 L262.9,278.94 L263.4,278.94 L263.9,278.95 L264.4,278.95 L264.9,278.96 L265.4,278.96 L265.9,278.96 L266.4,278.97 L266.9,278.97 L267.4,278.97 L267.9,278.98 L268.4,278.98 L268.9,278.98 L269.4,278.99 L269.9,278.99 L270.4,278.99 L270.9,278.99 L271.4,278.99 L271.9,279 L272.4,279 L272.9,279 L273.4,279 L273.9,279 L274.4,279 L274.9,279 L275.4,277.88 L275.9,277.86 L276.4,277.84 L276.9,277.82 L277.4,277.8 L277.9,277.77 L278.4,277.74 L278.9,277.71 L279.4,277.67 L279.9,277.63 L280.4,277.58 L280.9,277.52 L281.4,277.46 L281.9,277.39 L282.4,277.31 L282.9,277.22 L283.4,277.12 L283.9,277 L284.4,276.88 L284.9,276.73 L285.4,276.58 L285.9,276.41 L286.4,276.22 L286.9,276.03 L287.4,275.82 L287.9,275.6 L288.4,275.36 L288.9,275.12 L289.4,274.86 L289.9,274.59 L290.4,274.3 L290.9,274.01 L291.4,273.7 L291.9,273.39 L292.4,273.06 L292.9,272.71 L293.4,272.36 L293.9,271.99 L294.4,271.61 L294.9,271.22 L295.4,270.82 L295.9,270.41 L296.4,269.98 L296.9,269.54 L297.4,269.1 L297.9,268.64 L298.4,268.17 L298.9,267.69 L299.4,267.2 L299.9,266.69 L300.4,266.18 L300.9,265.64 L301.4,265.1 L301.9,264.53 L302.4,263.94 L302.9,263.32 L303.4,262.68 L303.9,262 L304.4,261.29 L304.9,260.54 L305.4,259.75 L305.9,258.92 L306.4,258.05 L306.9,257.14 L307.4,256.18 L307.9,255.19 L308.4,254.16 L308.9,253.11 L309.4,252.03 L309.9,250.94 L310.4,249.83 L310.9,248.73 L311.4,247.62 L311.9,246.51 L312.4,245.42 L312.9,244.33 L313.4,243.24 L313.9,242.16 L314.4,241.08 L314.9,240 L315.4,238.92 L315.9,237.83 L316.4,236.74 L316.9,235.63 L317.4,234.52 L317.9,233.4 L318.4,232.28 L318.9,231.14 L319.4,230.01 L319.9,228.87 L320.4,227.73 L320.9,226.6 L321.4,225.47 L321.9,224.34 L322.4,223.21 L322.9,222.09 L323.4,220.98 L323.9,219.88 L324.4,218.78 L324.9,217.69 L325.4,216.6 L325.9,215.53 L326.4,214.46 L326.9,213.4 L327.4,212.35 L327.9,211.31 L328.4,210.28 L328.9,209.26 L329.4,208.26 L329.9,207.27 L330.4,206.31 L330.9,205.36 L331.4,204.45 L331.9,203.55 L332.4,202.69 L332.9,201.86 L333.4,201.06 L333.9,200.29 L334.4,199.55 L334.9,198.85 L335.4,198.18 L335.9,197.55 L336.4,196.94 L336.9,196.37 L337.4,195.83 L337.9,195.32 L338.4,194.84 L338.9,194.39 L339.4,193.96 L339.9,193.56 L340.4,193.18 L340.9,192.82 L341.4,192.48 L341.9,192.15 L342.4,191.84 L342.9,191.54 L343.4,191.25 L343.9,190.97 L344.4,190.7 L344.9,190.43 L345.4,190.18 L345.9,189.93 L346.4,189.69 L346.9,189.46 L347.4,189.23 L347.9,189.02 L348.4,188.81 L348.9,188.61 L349.4,188.42 L349.9,188.24 L350.4,188.07 L350.9,187.9 L351.4,187.75 L351.9,187.6 L352.4,187.46 L352.9,187.32 L353.4,187.2 L353.9,187.08 L354.4,186.98 L354.9,186.88 L355.4,186.8 L355.9,186.72 L356.4,186.65" fill="none" stroke="#0fb84a" stroke-width="2" stroke-linecap="round" stroke-dasharray="0.01 3.7"/>
<path d="M207.4,277.3 L207.9,277.3 L208.4,277.3 L208.9,277.3 L209.4,277.3 L209.9,277.3 L210.4,277.3 L210.9,277.3 L211.4,277.3 L211.9,277.3 L212.4,277.3 L212.9,277.3 L213.4,277.3 L213.9,277.3 L214.4,277.3 L214.9,277.3 L215.4,277.3 L215.9,277.3 L216.4,277.3 L216.9,277.3 L217.4,277.3 L217.9,277.3 L218.4,277.3 L218.9,277.3 L219.4,277.31 L219.9,277.31 L220.4,277.31 L220.9,277.31 L221.4,277.31 L221.9,277.31 L222.4,277.31 L222.9,277.31 L223.4,277.31 L223.9,277.31 L224.4,277.31 L224.9,277.31 L225.4,277.31 L225.9,277.31 L226.4,277.31 L226.9,277.31 L227.4,277.32 L227.9,277.32 L228.4,277.32 L228.9,277.32 L229.4,277.32 L229.9,277.32 L230.4,277.32 L230.9,277.32 L231.4,277.32 L231.9,277.32 L232.4,277.32 L232.9,277.33 L233.4,277.33 L233.9,277.33 L234.4,277.33 L234.9,277.33 L235.4,277.33 L235.9,277.33 L236.4,277.33 L236.9,277.33 L237.4,277.33 L237.9,277.33 L238.4,277.33 L238.9,277.33 L239.4,277.33 L239.9,277.33 L240.4,277.32 L240.9,277.32 L241.4,277.31 L241.9,277.3 L242.4,277.29 L242.9,277.28 L243.4,277.26 L243.9,277.24 L244.4,277.23 L244.9,277.21 L245.4,277.18 L245.9,277.16 L246.4,277.13 L246.9,277.1 L247.4,277.07 L247.9,277.03 L248.4,276.99 L248.9,276.95 L249.4,276.9 L249.9,276.84 L250.4,276.78 L250.9,276.71 L251.4,276.63 L251.9,276.55 L252.4,276.45 L252.9,276.34 L253.4,276.22 L253.9,276.08 L254.4,275.93 L254.9,275.77 L255.4,275.6 L255.9,275.41 L256.4,275.21 L256.9,275 L257.4,274.78 L257.9,274.56 L258.4,274.32 L258.9,274.08 L259.4,273.84 L259.9,273.59 L260.4,273.33 L260.9,273.07 L261.4,272.81 L261.9,272.54 L262.4,272.27 L262.9,271.99 L263.4,271.7 L263.9,271.41 L264.4,271.11 L264.9,270.81 L265.4,270.5 L265.9,270.18 L266.4,269.84 L266.9,269.5 L267.4,269.14 L267.9,268.77 L268.4,268.38 L268.9,267.98 L269.4,267.55 L269.9,267.11 L270.4,266.64 L270.9,266.14 L271.4,265.62 L271.9,265.07 L272.4,264.5 L272.9,263.89 L273.4,263.26 L273.9,262.59 L274.4,261.9 L274.9,261.18 L275.4,260.44 L275.9,259.67 L276.4,258.89 L276.9,258.1 L277.4,257.28 L277.9,256.46 L278.4,255.63 L278.9,254.8 L279.4,253.95 L279.9,253.1 L280.4,252.23 L280.9,251.36 L281.4,250.47 L281.9,249.57 L282.4,248.65 L282.9,247.72 L283.4,246.78 L283.9,245.82 L284.4,244.84 L284.9,243.85 L285.4,242.85 L285.9,241.83 L286.4,240.81 L286.9,239.78 L287.4,238.75 L287.9,237.71 L288.4,236.66 L288.9,235.61 L289.4,234.56 L289.9,233.51 L290.4,232.47 L290.9,231.43 L291.4,230.4 L291.9,229.37 L292.4,228.36 L292.9,227.37 L293.4,226.38 L293.9,225.41 L294.4,224.46 L294.9,223.52 L295.4,222.6 L295.9,221.69 L296.4,220.8 L296.9,219.91 L297.4,219.04 L297.9,218.18 L298.4,217.32 L298.9,216.48 L299.4,215.64 L299.9,214.8 L300.4,213.97 L300.9,213.15 L301.4,212.34 L301.9,211.54 L302.4,210.75 L302.9,209.96 L303.4,209.19 L303.9,208.42 L304.4,207.67 L304.9,206.92 L305.4,206.19 L305.9,205.47 L306.4,204.76 L306.9,204.06 L307.4,203.38 L307.9,202.71 L308.4,202.05 L308.9,201.4 L309.4,200.77 L309.9,200.15 L310.4,199.55 L310.9,198.96 L311.4,198.38 L311.9,197.82 L312.4,197.27 L312.9,196.73 L313.4,196.2 L313.9,195.69 L314.4,195.19 L314.9,194.71 L315.4,194.23 L315.9,193.77 L316.4,193.32 L316.9,192.88 L317.4,192.45 L317.9,192.04 L318.4,191.63 L318.9,191.24 L319.4,190.86 L319.9,190.5 L320.4,190.15 L320.9,189.81 L321.4,189.48 L321.9,189.17 L322.4,188.88 L322.9,188.59 L323.4,188.31 L323.9,188.04 L324.4,187.78 L324.9,187.53 L325.4,187.29 L325.9,187.05 L326.4,186.83 L326.9,186.6 L327.4,186.39 L327.9,186.18 L328.4,185.98 L328.9,185.79 L329.4,185.6 L329.9,185.42 L330.4,185.24 L330.9,185.07 L331.4,184.91 L331.9,184.75 L332.4,184.6 L332.9,184.45 L333.4,184.31 L333.9,184.17 L334.4,184.03 L334.9,183.89 L335.4,183.74 L335.9,183.59 L336.4,183.44 L336.9,183.28 L337.4,183.12 L337.9,182.96 L338.4,182.8 L338.9,182.65 L339.4,182.49 L339.9,182.34 L340.4,182.2 L340.9,182.06 L341.4,181.92 L341.9,181.8 L342.4,181.68 L342.9,181.58 L343.4,181.48 L343.9,181.4 L344.4,181.33 L344.9,181.28 L345.4,181.25 L345.9,181.23 L346.4,181.23 L346.9,181.23 L347.4,181.22 L347.9,181.22 L348.4,181.22 L348.9,181.22 L349.4,181.21 L349.9,181.21 L350.4,181.21 L350.9,181.21 L351.4,181.21 L351.9,181.21 L352.4,181.21 L352.9,181.21 L353.4,181.2 L353.9,181.2 L354.4,181.2 L354.9,181.2 L355.4,181.2 L355.9,181.2 L356.4,181.2" fill="none" stroke="#ff3b63" stroke-width="1.9" stroke-linecap="round" stroke-dasharray="0.01 3.7"/>
<path d="M207.4,276.8 L207.9,276.79 L208.4,276.78 L208.9,276.78 L209.4,276.77 L209.9,276.77 L210.4,276.76 L210.9,276.75 L211.4,276.75 L211.9,276.74 L212.4,276.74 L212.9,276.73 L213.4,276.72 L213.9,276.72 L214.4,276.71 L214.9,276.71 L215.4,276.7 L215.9,276.69 L216.4,276.69 L216.9,276.68 L217.4,276.68 L217.9,276.67 L218.4,276.66 L218.9,276.66 L219.4,276.65 L219.9,276.65 L220.4,276.64 L220.9,276.63 L221.4,276.63 L221.9,276.62 L222.4,276.62 L222.9,276.61 L223.4,276.6 L223.9,276.6 L224.4,276.59 L224.9,276.59 L225.4,276.58 L225.9,276.57 L226.4,276.57 L226.9,276.56 L227.4,276.56 L227.9,276.55 L228.4,276.54 L228.9,276.54 L229.4,276.53 L229.9,276.53 L230.4,276.52 L230.9,276.51 L231.4,276.51 L231.9,276.5 L232.4,276.5 L232.9,276.49 L233.4,276.48 L233.9,276.48 L234.4,276.47 L234.9,276.47 L235.4,276.46 L235.9,276.45 L236.4,276.45 L236.9,276.44 L237.4,276.44 L237.9,276.43 L238.4,276.42 L238.9,276.42 L239.4,276.41 L239.9,276.41 L240.4,276.4 L240.9,276.39 L241.4,276.39 L241.9,276.38 L242.4,276.38 L242.9,276.37 L243.4,276.36 L243.9,276.36 L244.4,276.35 L244.9,276.35 L245.4,276.34 L245.9,276.33 L246.4,276.33 L246.9,276.32 L247.4,276.32 L247.9,276.31 L248.4,276.3 L248.9,276.3 L249.4,276.29 L249.9,276.29 L250.4,276.28 L250.9,276.27 L251.4,276.27 L251.9,276.26 L252.4,276.26 L252.9,276.25 L253.4,276.24 L253.9,276.24 L254.4,276.23 L254.9,276.23 L255.4,276.22 L255.9,276.21 L256.4,276.21 L256.9,276.2 L257.4,276.2 L257.9,276.19 L258.4,276.18 L258.9,276.18 L259.4,276.17 L259.9,276.17 L260.4,276.16 L260.9,276.15 L261.4,276.15 L261.9,276.14 L262.4,276.14 L262.9,276.13 L263.4,276.12 L263.9,276.12 L264.4,276.11 L264.9,276.11 L265.4,276.1 L265.9,276.09 L266.4,276.09 L266.9,276.08 L267.4,276.08 L267.9,276.07 L268.4,276.06 L268.9,276.06 L269.4,276.05 L269.9,276.05 L270.4,276.04 L270.9,276.03 L271.4,276.03 L271.9,276.02 L272.4,276.02 L272.9,276.01 L273.4,276 L273.9,276 L274.4,275.99 L274.9,275.99 L275.4,275.98 L275.9,275.97 L276.4,275.97 L276.9,275.96 L277.4,275.96 L277.9,275.95 L278.4,275.94 L278.9,275.94 L279.4,275.93 L279.9,275.93 L280.4,275.92 L280.9,275.91 L281.4,275.91 L281.9,275.9 L282.4,275.9 L282.9,275.89 L283.4,275.88 L283.9,275.88 L284.4,275.87 L284.9,275.87 L285.4,275.86 L285.9,275.85 L286.4,275.85 L286.9,275.84 L287.4,275.84 L287.9,275.83 L288.4,275.82 L288.9,275.82 L289.4,275.81 L289.9,275.81 L290.4,275.8 L290.9,275.79 L291.4,275.79 L291.9,275.78 L292.4,275.78 L292.9,275.77 L293.4,275.76 L293.9,275.76 L294.4,275.75 L294.9,275.75 L295.4,275.74 L295.9,275.73 L296.4,275.73 L296.9,275.72 L297.4,275.72 L297.9,275.71 L298.4,275.7 L298.9,275.7 L299.4,275.69 L299.9,275.69 L300.4,275.68 L300.9,275.67 L301.4,275.67 L301.9,275.66 L302.4,275.66 L302.9,275.65 L303.4,275.64 L303.9,275.64 L304.4,275.63 L304.9,275.63 L305.4,275.62 L305.9,275.61 L306.4,275.61 L306.9,275.6 L307.4,275.6 L307.9,275.59 L308.4,275.58 L308.9,275.58 L309.4,275.57 L309.9,275.57 L310.4,275.56 L310.9,275.55 L311.4,275.55 L311.9,275.54 L312.4,275.54 L312.9,275.53 L313.4,275.52 L313.9,275.52 L314.4,275.51 L314.9,275.51 L315.4,275.5 L315.9,275.49 L316.4,275.49 L316.9,275.48 L317.4,275.48 L317.9,275.47 L318.4,275.46 L318.9,275.46 L319.4,275.45 L319.9,275.45 L320.4,275.44 L320.9,275.43 L321.4,275.43 L321.9,275.42 L322.4,275.42 L322.9,275.41 L323.4,275.4 L323.9,275.4 L324.4,275.39 L324.9,275.39 L325.4,275.38 L325.9,275.37 L326.4,275.37 L326.9,275.36 L327.4,275.36 L327.9,275.35 L328.4,275.34 L328.9,275.34 L329.4,275.33 L329.9,275.33 L330.4,275.32 L330.9,275.31 L331.4,275.31 L331.9,275.3 L332.4,275.3 L332.9,275.29 L333.4,275.28 L333.9,275.28 L334.4,275.27 L334.9,275.27 L335.4,275.26 L335.9,275.25 L336.4,275.25 L336.9,275.24 L337.4,275.24 L337.9,275.23 L338.4,275.22 L338.9,275.22 L339.4,275.21 L339.9,275.21 L340.4,275.2 L340.9,275.19 L341.4,275.19 L341.9,275.18 L342.4,275.18 L342.9,275.17 L343.4,275.16 L343.9,275.16 L344.4,275.15 L344.9,275.15 L345.4,275.14 L345.9,275.13 L346.4,275.13 L346.9,275.12 L347.4,275.12 L347.9,275.11 L348.4,275.1 L348.9,275.1 L349.4,275.09 L349.9,275.09 L350.4,275.08 L350.9,275.07 L351.4,275.07 L351.9,275.06 L352.4,275.06 L352.9,275.05 L353.4,275.04 L353.9,275.04 L354.4,275.03 L354.9,275.03 L355.4,275.02 L355.9,275.01 L356.4,275.01" fill="none" stroke="#c43fb5" stroke-width="2" stroke-linecap="round" stroke-dasharray="0.01 3.7"/>
</g>
<rect x="207" y="177.3" width="149.6" height="111.8" fill="none" stroke="#1a1a1a" stroke-width="1.2"/>
<path d="M203.7,177.4 H207 M205,191.08 H207 M203.7,204.75 H207 M205,218.43 H207 M203.7,232.1 H207 M205,245.78 H207 M203.7,259.45 H207 M205,273.12 H207 M203.7,286.8 H207 M213.85,289.1 V291.9 M223.4,289.1 V293.7 M232.95,289.1 V291.9 M242.5,289.1 V293.7 M252.05,289.1 V291.9 M261.6,289.1 V293.7 M271.15,289.1 V291.9 M280.7,289.1 V293.7 M290.25,289.1 V291.9 M299.8,289.1 V293.7 M309.35,289.1 V291.9 M318.9,289.1 V293.7 M328.45,289.1 V291.9 M338,289.1 V293.7 M347.55,289.1 V291.9 " stroke="#1a1a1a" stroke-width="0.9" fill="none"/>
<text class="t" x="201.7" y="180.65" font-size="7.6" text-anchor="end" fill="#111">1.0</text>
<text class="t" x="201.7" y="207.5" font-size="7.6" text-anchor="end" fill="#111">0.8</text>
<text class="t" x="201.7" y="234.85" font-size="7.6" text-anchor="end" fill="#111">0.4</text>
<text class="t" x="201.7" y="262.2" font-size="7.6" text-anchor="end" fill="#111">0.2</text>
<text class="t" x="201.7" y="289.55" font-size="7.6" text-anchor="end" fill="#111">0.0</text>
<text class="t" x="223.4" y="301.8" font-size="7.6" text-anchor="middle" fill="#111">5</text>
<text class="t" x="242.5" y="301.8" font-size="7.6" text-anchor="middle" fill="#111">10</text>
<text class="t" x="261.6" y="301.8" font-size="7.6" text-anchor="middle" fill="#111">15</text>
<text class="t" x="280.7" y="301.8" font-size="7.6" text-anchor="middle" fill="#111">20</text>
<text class="t" x="299.8" y="301.8" font-size="7.6" text-anchor="middle" fill="#111">25</text>
<text class="t" x="318.9" y="301.8" font-size="7.6" text-anchor="middle" fill="#111">30</text>
<text class="t" x="338" y="301.8" font-size="7.6" text-anchor="middle" fill="#111">35</text>
<text class="t" x="281.5" y="313" font-size="7.8" text-anchor="middle" fill="#111">Cycle number</text>
<text class="t" transform="translate(187,234.5) rotate(-90)" font-size="7.5" text-anchor="middle" fill="#111">Intensity (a.u.)</text>
</g>
<g id="panelF">
<text x="370.7" y="170.4" font-size="11.7" font-weight="bold" fill="#000">F</text>
<defs><clipPath id="clipF"><rect x="397" y="177.2" width="148" height="112"/></clipPath></defs>
<g clip-path="url(#clipF)" fill="none" stroke-linejoin="round">
<path d="M397,283.1 L397.5,283.1 L398,283.1 L398.5,283.1 L399,283.1 L399.5,283.1 L400,283.1 L400.5,283.1 L401,283.1 L401.5,283.1 L402,283.1 L402.5,283.1 L403,283.1 L403.5,283.1 L404,283.1 L404.5,283.1 L405,283.1 L405.5,283.1 L406,283.1 L406.5,283.1 L407,283.1 L407.5,283.1 L408,283.1 L408.5,283.04 L409,282.88 L409.5,282.65 L410,282.37 L410.5,281.83 L411,281.09 L411.5,280.27 L412,279.5 L412.5,278.76 L413,277.97 L413.5,277.16 L414,276.33 L414.5,275.52 L415,274.74 L415.5,274.02 L416,273.36 L416.5,272.79 L417,272.27 L417.5,271.75 L418,271.25 L418.5,270.77 L419,270.31 L419.5,269.87 L420,269.45 L420.5,269.06 L421,268.7 L421.5,268.37 L422,268.08 L422.5,267.82 L423,267.6 L423.5,267.41 L424,267.22 L424.5,267.04 L425,266.86 L425.5,266.7 L426,266.54 L426.5,266.39 L427,266.26 L427.5,266.13 L428,266.01 L428.5,265.9 L429,265.8 L429.5,265.71 L430,265.63 L430.5,265.57 L431,265.52 L431.5,265.48 L432,265.44 L432.5,265.41 L433,265.37 L433.5,265.35 L434,265.32 L434.5,265.3 L435,265.28 L435.5,265.26 L436,265.24 L436.5,265.22 L437,265.21 L437.5,265.19 L438,265.18 L438.5,265.16 L439,265.15 L439.5,265.13 L440,265.12 L440.5,265.1 L441,265.08 L441.5,265.06 L442,265.04 L442.5,265.01 L443,264.98 L443.5,264.95 L444,264.92 L444.5,264.89 L445,264.85 L445.5,264.81 L446,264.76 L446.5,264.72 L447,264.67 L447.5,264.61 L448,264.54 L448.5,264.47 L449,264.39 L449.5,264.29 L450,264.19 L450.5,264.08 L451,263.94 L451.5,263.71 L452,263.38 L452.5,262.97 L453,262.47 L453.5,261.91 L454,261.3 L454.5,260.54 L455,259.55 L455.5,258.31 L456,256.83 L456.5,254.8 L457,251.95 L457.5,248.89 L458,245.55 L458.5,242.03 L459,238.7 L459.5,235.49 L460,232.35 L460.5,229.24 L461,226.13 L461.5,223 L462,219.88 L462.5,216.8 L463,213.71 L463.5,210.57 L464,207.33 L464.5,203.98 L465,200.51 L465.5,196.68 L466,192.2 L466.5,188.02 L467,184.6 L467.5,182.55 L468,181.3 L468.5,180.65 L469,180.31 L469.5,180.46 L470,181.01 L470.5,182.03 L471,184.11 L471.5,187.32 L472,191.22 L472.5,194.82 L473,198.11 L473.5,200.86 L474,203.52 L474.5,206.71 L475,210.8 L475.5,215.46 L476,220.25 L476.5,224.77 L477,229.19 L477.5,233.59 L478,238 L478.5,242.46 L479,246.91 L479.5,251.19 L480,255.33 L480.5,259.29 L481,263.27 L481.5,266.6 L482,269.06 L482.5,271.12 L483,272.8 L483.5,274.2 L484,275.44 L484.5,276.51 L485,277.43 L485.5,278.19 L486,278.89 L486.5,279.53 L487,280.08 L487.5,280.54 L488,280.9 L488.5,281.19 L489,281.46 L489.5,281.69 L490,281.89 L490.5,282.03 L491,282.1 L491.5,282.14 L492,282.17 L492.5,282.2 L493,282.23 L493.5,282.25 L494,282.27 L494.5,282.28 L495,282.29 L495.5,282.3 L496,282.3 L496.5,282.3 L497,282.3 L497.5,282.3 L498,282.3 L498.5,282.3 L499,282.3 L499.5,282.3 L500,282.3 L500.5,282.3 L501,282.3 L501.5,282.3 L502,282.3 L502.5,282.3 L503,282.3 L503.5,282.3 L504,282.3 L504.5,282.3 L505,282.3 L505.5,282.3 L506,282.3 L506.5,282.3 L507,282.3 L507.5,282.3 L508,282.3 L508.5,282.3 L509,282.3 L509.5,282.3 L510,282.3 L510.5,282.3 L511,282.3 L511.5,282.3 L512,282.3 L512.5,282.3 L513,282.3 L513.5,282.3 L514,282.3 L514.5,282.3 L515,282.3 L515.5,282.3 L516,282.3 L516.5,282.3 L517,282.3 L517.5,282.3 L518,282.3 L518.5,282.3 L519,282.3 L519.5,282.3 L520,282.3 L520.5,282.3 L521,282.3 L521.5,282.3 L522,282.3 L522.5,282.3 L523,282.3 L523.5,282.3 L524,282.3 L524.5,282.3 L525,282.3 L525.5,282.3 L526,282.3 L526.5,282.3 L527,282.3 L527.5,282.3 L528,282.3 L528.5,282.3 L529,282.3 L529.5,282.3 L530,282.3 L530.5,282.3 L531,282.3 L531.5,282.3 L532,282.3 L532.5,282.3 L533,282.3 L533.5,282.3 L534,282.3 L534.5,282.3 L535,282.3 L535.5,282.3 L536,282.3 L536.5,282.3 L537,282.3 L537.5,282.3 L538,282.3 L538.5,282.3 L539,282.3 L539.5,282.3 L540,282.3 L540.5,282.3 L541,282.3 L541.5,282.3 L542,282.3 L542.5,282.3 L543,282.3 L543.5,282.3 L544,282.3 L544.5,282.3 L545,282.3 L545.5,282.3 L546,282.3" stroke="#2ecb82" stroke-width="0.7"/>
<path d="M397,284.7 L397.5,284.7 L398,284.7 L398.5,284.7 L399,284.7 L399.5,284.7 L400,284.7 L400.5,284.7 L401,284.7 L401.5,284.7 L402,284.7 L402.5,284.7 L403,284.7 L403.5,284.7 L404,284.7 L404.5,284.7 L405,284.7 L405.5,284.7 L406,284.7 L406.5,284.7 L407,284.7 L407.5,284.7 L408,284.7 L408.5,284.7 L409,284.7 L409.5,284.7 L410,284.7 L410.5,284.7 L411,284.62 L411.5,284.43 L412,284.17 L412.5,283.87 L413,283.41 L413.5,282.8 L414,282.12 L414.5,281.43 L415,280.8 L415.5,280.21 L416,279.6 L416.5,278.98 L417,278.37 L417.5,277.76 L418,277.17 L418.5,276.61 L419,276.07 L419.5,275.58 L420,275.13 L420.5,274.7 L421,274.27 L421.5,273.85 L422,273.45 L422.5,273.05 L423,272.67 L423.5,272.29 L424,271.93 L424.5,271.59 L425,271.25 L425.5,270.93 L426,270.63 L426.5,270.34 L427,270.06 L427.5,269.8 L428,269.55 L428.5,269.31 L429,269.08 L429.5,268.85 L430,268.63 L430.5,268.41 L431,268.2 L431.5,268 L432,267.81 L432.5,267.62 L433,267.45 L433.5,267.28 L434,267.12 L434.5,266.98 L435,266.85 L435.5,266.73 L436,266.62 L436.5,266.52 L437,266.44 L437.5,266.36 L438,266.29 L438.5,266.22 L439,266.16 L439.5,266.1 L440,266.05 L440.5,265.99 L441,265.94 L441.5,265.88 L442,265.82 L442.5,265.76 L443,265.7 L443.5,265.63 L444,265.55 L444.5,265.47 L445,265.38 L445.5,265.3 L446,265.21 L446.5,265.13 L447,265.03 L447.5,264.94 L448,264.83 L448.5,264.71 L449,264.58 L449.5,264.44 L450,264.29 L450.5,264.11 L451,263.92 L451.5,263.66 L452,263.32 L452.5,262.92 L453,262.44 L453.5,261.9 L454,261.3 L454.5,260.54 L455,259.55 L455.5,258.31 L456,256.83 L456.5,254.8 L457,251.95 L457.5,248.89 L458,245.55 L458.5,242.03 L459,238.7 L459.5,235.49 L460,232.35 L460.5,229.24 L461,226.13 L461.5,223 L462,219.88 L462.5,216.8 L463,213.71 L463.5,210.57 L464,207.33 L464.5,203.98 L465,200.51 L465.5,196.68 L466,192.2 L466.5,188.02 L467,184.6 L467.5,182.55 L468,181.3 L468.5,180.65 L469,180.31 L469.5,180.46 L470,181.01 L470.5,182.03 L471,184.11 L471.5,187.32 L472,191.22 L472.5,194.82 L473,198.11 L473.5,200.86 L474,203.52 L474.5,206.71 L475,210.8 L475.5,215.46 L476,220.25 L476.5,224.77 L477,229.19 L477.5,233.59 L478,238 L478.5,242.46 L479,246.91 L479.5,251.19 L480,255.33 L480.5,259.29 L481,263.27 L481.5,266.6 L482,269.06 L482.5,271.12 L483,272.8 L483.5,274.2 L484,275.44 L484.5,276.51 L485,277.43 L485.5,278.19 L486,278.89 L486.5,279.53 L487,280.08 L487.5,280.54 L488,280.9 L488.5,281.19 L489,281.46 L489.5,281.69 L490,281.89 L490.5,282.03 L491,282.1 L491.5,282.14 L492,282.17 L492.5,282.2 L493,282.23 L493.5,282.25 L494,282.27 L494.5,282.28 L495,282.29 L495.5,282.3 L496,282.3 L496.5,282.3 L497,282.3 L497.5,282.3 L498,282.3 L498.5,282.3 L499,282.3 L499.5,282.3 L500,282.3 L500.5,282.3 L501,282.3 L501.5,282.3 L502,282.3 L502.5,282.3 L503,282.3 L503.5,282.3 L504,282.3 L504.5,282.3 L505,282.3 L505.5,282.3 L506,282.3 L506.5,282.3 L507,282.3 L507.5,282.3 L508,282.3 L508.5,282.3 L509,282.3 L509.5,282.3 L510,282.3 L510.5,282.3 L511,282.3 L511.5,282.3 L512,282.3 L512.5,282.3 L513,282.3 L513.5,282.3 L514,282.3 L514.5,282.3 L515,282.3 L515.5,282.3 L516,282.3 L516.5,282.3 L517,282.3 L517.5,282.3 L518,282.3 L518.5,282.3 L519,282.3 L519.5,282.3 L520,282.3 L520.5,282.3 L521,282.3 L521.5,282.3 L522,282.3 L522.5,282.3 L523,282.3 L523.5,282.3 L524,282.3 L524.5,282.3 L525,282.3 L525.5,282.3 L526,282.3 L526.5,282.3 L527,282.3 L527.5,282.3 L528,282.3 L528.5,282.3 L529,282.3 L529.5,282.3 L530,282.3 L530.5,282.3 L531,282.3 L531.5,282.3 L532,282.3 L532.5,282.3 L533,282.3 L533.5,282.3 L534,282.3 L534.5,282.3 L535,282.3 L535.5,282.3 L536,282.3 L536.5,282.3 L537,282.3 L537.5,282.3 L538,282.3 L538.5,282.3 L539,282.3 L539.5,282.3 L540,282.3 L540.5,282.3 L541,282.3 L541.5,282.3 L542,282.3 L542.5,282.3 L543,282.3 L543.5,282.3 L544,282.3 L544.5,282.3 L545,282.3 L545.5,282.3 L546,282.3" stroke="#2ecb82" stroke-width="0.55"/>
<path d="M397,286 L397.5,286 L398,286 L398.5,286 L399,286 L399.5,286 L400,286 L400.5,286 L401,286 L401.5,286 L402,286 L402.5,286 L403,286 L403.5,286 L404,286 L404.5,286 L405,286 L405.5,286 L406,286 L406.5,286 L407,286 L407.5,286 L408,286 L408.5,286 L409,286 L409.5,286 L410,286 L410.5,286 L411,286 L411.5,285.99 L412,285.88 L412.5,285.69 L413,285.45 L413.5,285.14 L414,284.68 L414.5,284.13 L415,283.55 L415.5,283 L416,282.49 L416.5,281.96 L417,281.43 L417.5,280.9 L418,280.38 L418.5,279.86 L419,279.36 L419.5,278.88 L420,278.43 L420.5,277.97 L421,277.52 L421.5,277.07 L422,276.62 L422.5,276.18 L423,275.74 L423.5,275.32 L424,274.9 L424.5,274.49 L425,274.1 L425.5,273.72 L426,273.35 L426.5,273 L427,272.66 L427.5,272.34 L428,272.04 L428.5,271.75 L429,271.47 L429.5,271.2 L430,270.93 L430.5,270.67 L431,270.42 L431.5,270.17 L432,269.94 L432.5,269.71 L433,269.49 L433.5,269.27 L434,269.07 L434.5,268.87 L435,268.68 L435.5,268.5 L436,268.33 L436.5,268.17 L437,268.02 L437.5,267.88 L438,267.74 L438.5,267.62 L439,267.49 L439.5,267.37 L440,267.26 L440.5,267.14 L441,267.03 L441.5,266.92 L442,266.8 L442.5,266.68 L443,266.55 L443.5,266.42 L444,266.29 L444.5,266.14 L445,266 L445.5,265.86 L446,265.72 L446.5,265.58 L447,265.44 L447.5,265.29 L448,265.13 L448.5,264.96 L449,264.78 L449.5,264.59 L450,264.38 L450.5,264.15 L451,263.9 L451.5,263.6 L452,263.27 L452.5,262.87 L453,262.42 L453.5,261.9 L454,261.3 L454.5,260.54 L455,259.55 L455.5,258.31 L456,256.83 L456.5,254.8 L457,251.95 L457.5,248.89 L458,245.55 L458.5,242.03 L459,238.7 L459.5,235.49 L460,232.35 L460.5,229.24 L461,226.13 L461.5,223 L462,219.88 L462.5,216.78 L463,213.68 L463.5,210.54 L464,207.32 L464.5,203.92 L465,200.34 L465.5,197.09 L466,194.18 L466.5,191.92 L467,190.22 L467.5,189 L468,188.09 L468.5,187.43 L469,187.36 L469.5,187.93 L470,188.81 L470.5,190 L471,191.65 L471.5,193.19 L472,194.64 L472.5,196.22 L473,198.12 L473.5,200.52 L474,203.4 L474.5,206.7 L475,210.77 L475.5,215.44 L476,220.24 L476.5,224.77 L477,229.19 L477.5,233.59 L478,238 L478.5,242.46 L479,246.91 L479.5,251.19 L480,255.33 L480.5,259.29 L481,263.27 L481.5,266.6 L482,269.06 L482.5,271.12 L483,272.8 L483.5,274.2 L484,275.44 L484.5,276.51 L485,277.43 L485.5,278.19 L486,278.89 L486.5,279.53 L487,280.08 L487.5,280.54 L488,280.9 L488.5,281.19 L489,281.46 L489.5,281.69 L490,281.89 L490.5,282.03 L491,282.1 L491.5,282.14 L492,282.17 L492.5,282.2 L493,282.23 L493.5,282.25 L494,282.27 L494.5,282.28 L495,282.29 L495.5,282.3 L496,282.3 L496.5,282.3 L497,282.3 L497.5,282.3 L498,282.3 L498.5,282.3 L499,282.3 L499.5,282.3 L500,282.3 L500.5,282.3 L501,282.3 L501.5,282.3 L502,282.3 L502.5,282.3 L503,282.3 L503.5,282.3 L504,282.3 L504.5,282.3 L505,282.3 L505.5,282.3 L506,282.3 L506.5,282.3 L507,282.3 L507.5,282.3 L508,282.3 L508.5,282.3 L509,282.3 L509.5,282.3 L510,282.3 L510.5,282.3 L511,282.3 L511.5,282.3 L512,282.3 L512.5,282.3 L513,282.3 L513.5,282.3 L514,282.3 L514.5,282.3 L515,282.3 L515.5,282.3 L516,282.3 L516.5,282.3 L517,282.3 L517.5,282.3 L518,282.3 L518.5,282.3 L519,282.3 L519.5,282.3 L520,282.3 L520.5,282.3 L521,282.3 L521.5,282.3 L522,282.3 L522.5,282.3 L523,282.3 L523.5,282.3 L524,282.3 L524.5,282.3 L525,282.3 L525.5,282.3 L526,282.3 L526.5,282.3 L527,282.3 L527.5,282.3 L528,282.3 L528.5,282.3 L529,282.3 L529.5,282.3 L530,282.3 L530.5,282.3 L531,282.3 L531.5,282.3 L532,282.3 L532.5,282.3 L533,282.3 L533.5,282.3 L534,282.3 L534.5,282.3 L535,282.3 L535.5,282.3 L536,282.3 L536.5,282.3 L537,282.3 L537.5,282.3 L538,282.3 L538.5,282.3 L539,282.3 L539.5,282.3 L540,282.3 L540.5,282.3 L541,282.3 L541.5,282.3 L542,282.3 L542.5,282.3 L543,282.3 L543.5,282.3 L544,282.3 L544.5,282.3 L545,282.3 L545.5,282.3 L546,282.3" stroke="#2ecb82" stroke-width="0.55"/>
<path d="M397,287.5 L397.5,287.5 L398,287.5 L398.5,287.5 L399,287.5 L399.5,287.5 L400,287.5 L400.5,287.5 L401,287.5 L401.5,287.5 L402,287.5 L402.5,287.5 L403,287.5 L403.5,287.5 L404,287.5 L404.5,287.5 L405,287.5 L405.5,287.5 L406,287.5 L406.5,287.5 L407,287.5 L407.5,287.5 L408,287.5 L408.5,287.5 L409,287.5 L409.5,287.5 L410,287.5 L410.5,287.5 L411,287.5 L411.5,287.5 L412,287.5 L412.5,287.43 L413,287.27 L413.5,287.05 L414,286.75 L414.5,286.28 L415,285.71 L415.5,285.09 L416,284.5 L416.5,283.92 L417,283.3 L417.5,282.66 L418,282.02 L418.5,281.39 L419,280.78 L419.5,280.21 L420,279.69 L420.5,279.18 L421,278.67 L421.5,278.17 L422,277.68 L422.5,277.19 L423,276.72 L423.5,276.26 L424,275.81 L424.5,275.38 L425,274.96 L425.5,274.55 L426,274.17 L426.5,273.81 L427,273.46 L427.5,273.14 L428,272.84 L428.5,272.56 L429,272.29 L429.5,272.03 L430,271.78 L430.5,271.54 L431,271.31 L431.5,271.09 L432,270.87 L432.5,270.66 L433,270.46 L433.5,270.26 L434,270.07 L434.5,269.88 L435,269.7 L435.5,269.52 L436,269.34 L436.5,269.16 L437,268.99 L437.5,268.83 L438,268.68 L438.5,268.53 L439,268.39 L439.5,268.24 L440,268.11 L440.5,267.97 L441,267.83 L441.5,267.69 L442,267.54 L442.5,267.39 L443,267.24 L443.5,267.08 L444,266.91 L444.5,266.73 L445,266.55 L445.5,266.37 L446,266.19 L446.5,266 L447,265.81 L447.5,265.61 L448,265.4 L448.5,265.18 L449,264.95 L449.5,264.71 L450,264.45 L450.5,264.17 L451,263.88 L451.5,263.57 L452,263.23 L452.5,262.84 L453,262.4 L453.5,261.89 L454,261.3 L454.5,260.54 L455,259.55 L455.5,258.31 L456,256.83 L456.5,254.8 L457,251.95 L457.5,248.89 L458,245.55 L458.5,242.03 L459,238.7 L459.5,235.49 L460,232.35 L460.5,229.24 L461,226.13 L461.5,223 L462,219.88 L462.5,216.78 L463,213.68 L463.5,210.54 L464,207.32 L464.5,203.92 L465,200.34 L465.5,197.09 L466,194.18 L466.5,191.92 L467,190.22 L467.5,189 L468,188.09 L468.5,187.43 L469,187.36 L469.5,187.93 L470,188.81 L470.5,190 L471,191.65 L471.5,193.19 L472,194.64 L472.5,196.22 L473,198.12 L473.5,200.52 L474,203.4 L474.5,206.7 L475,210.77 L475.5,215.44 L476,220.24 L476.5,224.77 L477,229.19 L477.5,233.59 L478,238 L478.5,242.46 L479,246.91 L479.5,251.19 L480,255.33 L480.5,259.29 L481,263.27 L481.5,266.6 L482,269.06 L482.5,271.12 L483,272.8 L483.5,274.2 L484,275.44 L484.5,276.51 L485,277.43 L485.5,278.19 L486,278.89 L486.5,279.53 L487,280.08 L487.5,280.54 L488,280.9 L488.5,281.19 L489,281.46 L489.5,281.69 L490,281.89 L490.5,282.03 L491,282.1 L491.5,282.14 L492,282.17 L492.5,282.2 L493,282.23 L493.5,282.25 L494,282.27 L494.5,282.28 L495,282.29 L495.5,282.3 L496,282.3 L496.5,282.3 L497,282.3 L497.5,282.3 L498,282.3 L498.5,282.3 L499,282.3 L499.5,282.3 L500,282.3 L500.5,282.3 L501,282.3 L501.5,282.3 L502,282.3 L502.5,282.3 L503,282.3 L503.5,282.3 L504,282.3 L504.5,282.3 L505,282.3 L505.5,282.3 L506,282.3 L506.5,282.3 L507,282.3 L507.5,282.3 L508,282.3 L508.5,282.3 L509,282.3 L509.5,282.3 L510,282.3 L510.5,282.3 L511,282.3 L511.5,282.3 L512,282.3 L512.5,282.3 L513,282.3 L513.5,282.3 L514,282.3 L514.5,282.3 L515,282.3 L515.5,282.3 L516,282.3 L516.5,282.3 L517,282.3 L517.5,282.3 L518,282.3 L518.5,282.3 L519,282.3 L519.5,282.3 L520,282.3 L520.5,282.3 L521,282.3 L521.5,282.3 L522,282.3 L522.5,282.3 L523,282.3 L523.5,282.3 L524,282.3 L524.5,282.3 L525,282.3 L525.5,282.3 L526,282.3 L526.5,282.3 L527,282.3 L527.5,282.3 L528,282.3 L528.5,282.3 L529,282.3 L529.5,282.3 L530,282.3 L530.5,282.3 L531,282.3 L531.5,282.3 L532,282.3 L532.5,282.3 L533,282.3 L533.5,282.3 L534,282.3 L534.5,282.3 L535,282.3 L535.5,282.3 L536,282.3 L536.5,282.3 L537,282.3 L537.5,282.3 L538,282.3 L538.5,282.3 L539,282.3 L539.5,282.3 L540,282.3 L540.5,282.3 L541,282.3 L541.5,282.3 L542,282.3 L542.5,282.3 L543,282.3 L543.5,282.3 L544,282.3 L544.5,282.3 L545,282.3 L545.5,282.3 L546,282.3" stroke="#2ecb82" stroke-width="0.7"/>
<path d="M397,249.5 H545" stroke="#0fb85a" stroke-width="1.2"/>
<path d="M397,282.2 H545" stroke="#0fb85a" stroke-width="1.6"/>
</g>
<rect x="397" y="177.2" width="148" height="112" fill="none" stroke="#1a1a1a" stroke-width="1.2"/>
<path d="M393.4,179.7 H397 M395,193.08 H397 M393.4,206.47 H397 M395,219.85 H397 M393.4,233.24 H397 M395,246.62 H397 M393.4,260.01 H397 M395,273.39 H397 M393.4,286.78 H397 M403.55,289.2 V292 M413.1,289.2 V293.8 M422.65,289.2 V292 M432.2,289.2 V293.8 M441.75,289.2 V292 M451.3,289.2 V293.8 M460.85,289.2 V292 M470.4,289.2 V293.8 M479.95,289.2 V292 M489.5,289.2 V293.8 M499.05,289.2 V292 M508.6,289.2 V293.8 M518.15,289.2 V292 M527.7,289.2 V293.8 M537.25,289.2 V292 " stroke="#1a1a1a" stroke-width="0.9" fill="none"/>
<text class="t" x="391.8" y="181" font-size="7.9" text-anchor="end" fill="#111">1.0</text>
<text class="t" x="391.8" y="209.27" font-size="7.9" text-anchor="end" fill="#111">0.8</text>
<text class="t" x="391.8" y="236.04" font-size="7.9" text-anchor="end" fill="#111">0.4</text>
<text class="t" x="391.8" y="262.81" font-size="7.9" text-anchor="end" fill="#111">0.2</text>
<text class="t" x="391.8" y="289.58" font-size="7.9" text-anchor="end" fill="#111">0.0</text>
<text class="t" x="413.1" y="301.8" font-size="7.9" text-anchor="middle" fill="#111">60</text>
<text class="t" x="432.2" y="301.8" font-size="7.9" text-anchor="middle" fill="#111">65</text>
<text class="t" x="451.3" y="301.8" font-size="7.9" text-anchor="middle" fill="#111">70</text>
<text class="t" x="470.4" y="301.8" font-size="7.9" text-anchor="middle" fill="#111">75</text>
<text class="t" x="489.5" y="301.8" font-size="7.9" text-anchor="middle" fill="#111">80</text>
<text class="t" x="508.6" y="301.8" font-size="7.9" text-anchor="middle" fill="#111">85</text>
<text class="t" x="527.7" y="301.8" font-size="7.9" text-anchor="middle" fill="#111">90</text>
<text class="t" x="471.6" y="313" font-size="8.05" text-anchor="middle" fill="#111">Temperature (°C)</text>
<text class="t" transform="translate(375.8,233.5) rotate(-90)" font-size="7.9" text-anchor="middle" fill="#111">Intensity (a.u.)</text>
</g>
</svg>
</body></html>
